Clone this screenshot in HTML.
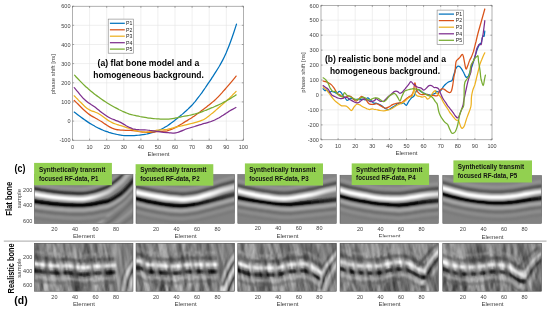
<!DOCTYPE html>
<html><head><meta charset="utf-8"><title>figure</title><style>
html,body{margin:0;padding:0;background:#fff;overflow:hidden}
svg{display:block}
text{font-family:"Liberation Sans",sans-serif;fill:#404040}
.tk{font-size:5.5px}
.lb{font-size:6px}
.lg{font-size:5.2px;fill:#222}
.tt{font-size:9.6px;font-weight:bold;fill:#000}
.rt{font-size:9.4px;font-weight:bold;fill:#000}
.cd{font-size:10.4px;font-weight:bold;fill:#000}
.gb{font-size:7.3px;font-weight:bold;fill:#111}
</style></head>
<body>
<svg width="550" height="310" viewBox="0 0 550 310">
<rect width="550" height="310" fill="#fff"/>
<path d="M89.6 6.2V140.2M106.7 6.2V140.2M123.8 6.2V140.2M140.9 6.2V140.2M157.9 6.2V140.2M175.0 6.2V140.2M192.1 6.2V140.2M209.2 6.2V140.2M226.3 6.2V140.2M72.5 25.3H243.4M72.5 44.5H243.4M72.5 63.6H243.4M72.5 82.8H243.4M72.5 101.9H243.4M72.5 121.1H243.4" stroke="#e4e4e4" stroke-width="0.6" fill="none"/>
<path d="M72.5 140.2v-1.6M72.5 6.2v1.6M89.6 140.2v-1.6M89.6 6.2v1.6M106.7 140.2v-1.6M106.7 6.2v1.6M123.8 140.2v-1.6M123.8 6.2v1.6M140.9 140.2v-1.6M140.9 6.2v1.6M157.9 140.2v-1.6M157.9 6.2v1.6M175.0 140.2v-1.6M175.0 6.2v1.6M192.1 140.2v-1.6M192.1 6.2v1.6M209.2 140.2v-1.6M209.2 6.2v1.6M226.3 140.2v-1.6M226.3 6.2v1.6M243.4 140.2v-1.6M243.4 6.2v1.6M72.5 6.2h1.6M243.4 6.2h-1.6M72.5 25.3h1.6M243.4 25.3h-1.6M72.5 44.5h1.6M243.4 44.5h-1.6M72.5 63.6h1.6M243.4 63.6h-1.6M72.5 82.8h1.6M243.4 82.8h-1.6M72.5 101.9h1.6M243.4 101.9h-1.6M72.5 121.1h1.6M243.4 121.1h-1.6M72.5 140.2h1.6M243.4 140.2h-1.6" stroke="#555" stroke-width="0.5" fill="none"/>
<rect x="72.5" y="6.2" width="170.9" height="134.0" fill="none" stroke="#707070" stroke-width="0.55"/>
<text class="tk" x="72.5" y="148.6" text-anchor="middle">0</text>
<text class="tk" x="89.6" y="148.6" text-anchor="middle">10</text>
<text class="tk" x="106.7" y="148.6" text-anchor="middle">20</text>
<text class="tk" x="123.8" y="148.6" text-anchor="middle">30</text>
<text class="tk" x="140.9" y="148.6" text-anchor="middle">40</text>
<text class="tk" x="157.9" y="148.6" text-anchor="middle">50</text>
<text class="tk" x="175.0" y="148.6" text-anchor="middle">60</text>
<text class="tk" x="192.1" y="148.6" text-anchor="middle">70</text>
<text class="tk" x="209.2" y="148.6" text-anchor="middle">80</text>
<text class="tk" x="226.3" y="148.6" text-anchor="middle">90</text>
<text class="tk" x="243.4" y="148.6" text-anchor="middle">100</text>
<text class="tk" x="70.5" y="8.4" text-anchor="end">600</text>
<text class="tk" x="70.5" y="27.5" text-anchor="end">500</text>
<text class="tk" x="70.5" y="46.7" text-anchor="end">400</text>
<text class="tk" x="70.5" y="65.8" text-anchor="end">300</text>
<text class="tk" x="70.5" y="85.0" text-anchor="end">200</text>
<text class="tk" x="70.5" y="104.1" text-anchor="end">100</text>
<text class="tk" x="70.5" y="123.3" text-anchor="end">0</text>
<text class="tk" x="70.5" y="142.4" text-anchor="end">-100</text>
<path d="M74.2 112.1C74.8 112.6 76.5 113.9 77.7 114.8C78.8 115.6 80.0 116.5 81.1 117.3C82.3 118.2 83.4 119.0 84.6 119.8C85.7 120.6 86.9 121.4 88.0 122.1C89.2 122.9 90.3 123.6 91.5 124.3C92.6 125.0 93.8 125.6 94.9 126.3C96.1 126.9 97.2 127.5 98.4 128.1C99.5 128.6 100.7 129.2 101.8 129.7C103.0 130.2 104.1 130.7 105.3 131.1C106.4 131.5 107.6 131.9 108.7 132.3C109.9 132.7 111.1 133.0 112.2 133.3C113.4 133.6 114.5 133.9 115.7 134.2C116.8 134.4 118.0 134.6 119.1 134.8C120.3 135.0 121.4 135.1 122.6 135.3C123.7 135.4 124.9 135.5 126.0 135.5C127.2 135.6 128.3 135.6 129.5 135.6C130.6 135.6 131.8 135.6 132.9 135.6C134.1 135.6 135.2 135.5 136.4 135.4C137.5 135.3 138.7 135.2 139.8 135.1C141.0 135.0 142.1 134.8 143.3 134.6C144.4 134.4 145.6 134.2 146.7 134.0C147.9 133.7 149.0 133.5 150.2 133.2C151.3 132.9 152.5 132.5 153.6 132.2C154.8 131.8 156.0 131.4 157.1 131.0C158.3 130.5 159.4 130.0 160.6 129.5C161.7 129.0 162.9 128.4 164.0 127.8C165.2 127.1 166.3 126.4 167.5 125.7C168.6 125.0 169.8 124.2 170.9 123.3C172.1 122.5 173.2 121.6 174.4 120.7C175.5 119.8 176.7 118.9 177.8 118.0C179.0 117.0 180.1 116.1 181.3 115.1C182.4 114.1 183.6 113.1 184.7 112.1C185.9 111.1 187.0 110.0 188.2 108.9C189.3 107.8 190.5 106.7 191.6 105.5C192.8 104.2 193.9 102.9 195.1 101.6C196.2 100.2 197.4 98.7 198.5 97.2C199.7 95.7 200.8 94.1 202.0 92.5C203.2 90.9 204.3 89.2 205.5 87.5C206.6 85.8 207.8 84.1 208.9 82.4C210.1 80.7 211.2 79.0 212.4 77.2C213.5 75.5 214.7 73.8 215.8 71.9C217.0 70.1 218.1 68.3 219.3 66.3C220.4 64.3 221.6 62.3 222.7 60.1C223.9 57.8 225.0 55.4 226.2 52.8C227.3 50.1 228.5 47.3 229.6 44.2C230.8 41.2 231.9 37.9 233.1 34.5C234.2 31.2 236.0 25.9 236.5 24.1" fill="none" stroke="#0072BD" stroke-width="1.25" stroke-linejoin="round" stroke-linecap="round"/>
<path d="M74.2 100.5C74.8 101.0 76.5 102.7 77.7 103.8C78.8 104.9 80.0 106.1 81.1 107.2C82.3 108.4 83.4 109.5 84.5 110.5C85.7 111.6 86.8 112.6 88.0 113.5C89.1 114.4 90.3 115.2 91.4 115.9C92.6 116.6 93.7 117.2 94.9 117.8C96.0 118.5 97.2 119.0 98.3 119.7C99.5 120.3 100.6 121.0 101.8 121.8C102.9 122.5 104.1 123.4 105.2 124.1C106.4 124.9 107.5 125.7 108.7 126.4C109.8 127.0 111.0 127.6 112.1 128.1C113.3 128.6 114.4 129.0 115.6 129.3C116.7 129.6 117.9 129.8 119.0 129.9C120.2 130.1 121.3 130.2 122.4 130.2C123.6 130.3 124.7 130.3 125.9 130.3C127.0 130.3 128.2 130.3 129.3 130.3C130.5 130.4 131.6 130.4 132.8 130.6C133.9 130.7 135.1 130.8 136.2 131.0C137.4 131.2 138.5 131.4 139.7 131.6C140.8 131.8 142.0 131.9 143.1 132.1C144.3 132.2 145.4 132.4 146.6 132.4C147.7 132.5 148.9 132.5 150.0 132.4C151.2 132.4 152.3 132.2 153.5 132.1C154.6 132.0 155.8 131.8 156.9 131.7C158.1 131.6 159.2 131.5 160.3 131.4C161.5 131.4 162.6 131.4 163.8 131.2C164.9 131.1 166.1 131.0 167.2 130.8C168.4 130.5 169.5 130.2 170.7 129.7C171.8 129.3 173.0 128.8 174.1 128.2C175.3 127.7 176.4 127.1 177.6 126.4C178.7 125.7 179.9 125.0 181.0 124.3C182.2 123.6 183.3 122.8 184.5 122.1C185.6 121.4 186.8 120.8 187.9 120.1C189.1 119.4 190.2 118.7 191.4 118.0C192.5 117.2 193.7 116.5 194.8 115.7C196.0 114.9 197.1 114.0 198.2 113.2C199.4 112.4 200.5 111.5 201.7 110.6C202.8 109.8 204.0 108.9 205.1 108.0C206.3 107.1 207.4 106.2 208.6 105.3C209.7 104.4 210.9 103.4 212.0 102.5C213.2 101.5 214.3 100.6 215.5 99.5C216.6 98.4 217.8 97.3 218.9 96.1C220.1 94.9 221.2 93.6 222.4 92.3C223.5 91.0 224.7 89.7 225.8 88.3C227.0 87.0 228.1 85.7 229.3 84.3C230.4 83.0 231.6 81.6 232.7 80.3C233.9 78.9 235.6 76.8 236.1 76.1" fill="none" stroke="#D95319" stroke-width="1.25" stroke-linejoin="round" stroke-linecap="round"/>
<path d="M74.2 95.8C74.8 96.4 76.5 98.1 77.7 99.3C78.8 100.5 80.0 101.7 81.1 102.8C82.3 104.0 83.4 105.2 84.5 106.2C85.7 107.3 86.8 108.3 88.0 109.0C89.1 109.8 90.3 110.3 91.4 110.8C92.6 111.3 93.7 111.5 94.9 112.0C96.0 112.5 97.2 112.9 98.3 113.5C99.5 114.2 100.6 114.9 101.8 115.7C102.9 116.5 104.1 117.4 105.2 118.2C106.4 119.1 107.5 119.9 108.7 120.7C109.8 121.4 111.0 122.1 112.1 122.6C113.3 123.2 114.4 123.6 115.6 124.0C116.7 124.4 117.9 124.7 119.0 125.1C120.2 125.4 121.3 125.8 122.4 126.1C123.6 126.5 124.7 126.9 125.9 127.3C127.0 127.7 128.2 128.1 129.3 128.5C130.5 128.9 131.6 129.4 132.8 129.7C133.9 130.1 135.1 130.5 136.2 130.8C137.4 131.1 138.5 131.3 139.7 131.5C140.8 131.7 142.0 131.9 143.1 132.0C144.3 132.0 145.4 132.0 146.6 132.0C147.7 131.9 148.9 131.8 150.0 131.6C151.2 131.4 152.3 131.2 153.5 130.9C154.6 130.7 155.8 130.4 156.9 130.2C158.1 130.0 159.2 129.9 160.3 129.8C161.5 129.7 162.6 129.7 163.8 129.7C164.9 129.6 166.1 129.5 167.2 129.4C168.4 129.2 169.5 129.0 170.7 128.7C171.8 128.4 173.0 128.0 174.1 127.7C175.3 127.4 176.4 127.0 177.6 126.7C178.7 126.4 179.9 126.2 181.0 126.0C182.2 125.7 183.3 125.5 184.5 125.2C185.6 125.0 186.8 124.7 187.9 124.4C189.1 124.1 190.2 123.8 191.4 123.5C192.5 123.2 193.7 122.9 194.8 122.6C196.0 122.3 197.1 122.0 198.2 121.6C199.4 121.3 200.5 120.9 201.7 120.4C202.8 120.0 204.0 119.4 205.1 118.7C206.3 118.0 207.4 117.1 208.6 116.2C209.7 115.4 210.9 114.4 212.0 113.4C213.2 112.5 214.3 111.5 215.5 110.5C216.6 109.5 217.8 108.5 218.9 107.5C220.1 106.5 221.2 105.5 222.4 104.5C223.5 103.5 224.7 102.5 225.8 101.4C227.0 100.4 228.1 99.3 229.3 98.2C230.4 97.1 231.6 96.0 232.7 94.8C233.9 93.7 235.6 92.0 236.1 91.4" fill="none" stroke="#EDB120" stroke-width="1.25" stroke-linejoin="round" stroke-linecap="round"/>
<path d="M74.2 87.6C74.8 88.2 76.5 90.3 77.7 91.6C78.8 93.0 79.9 94.5 81.1 95.8C82.2 97.1 83.4 98.4 84.5 99.5C85.7 100.6 86.8 101.5 88.0 102.4C89.1 103.2 90.3 103.9 91.4 104.7C92.6 105.4 93.7 106.2 94.9 107.1C96.0 107.9 97.1 108.9 98.3 109.8C99.4 110.7 100.6 111.6 101.7 112.5C102.9 113.3 104.0 114.2 105.2 115.0C106.3 115.8 107.5 116.6 108.6 117.2C109.8 117.9 110.9 118.5 112.1 119.0C113.2 119.5 114.3 119.8 115.5 120.3C116.6 120.7 117.8 121.1 118.9 121.6C120.1 122.1 121.2 122.7 122.4 123.4C123.5 124.0 124.7 124.8 125.8 125.5C127.0 126.1 128.1 126.8 129.3 127.4C130.4 127.9 131.5 128.4 132.7 128.8C133.8 129.1 135.0 129.3 136.1 129.5C137.3 129.7 138.4 129.7 139.6 129.8C140.7 129.8 141.9 129.8 143.0 129.8C144.2 129.9 145.3 129.9 146.5 130.0C147.6 130.1 148.7 130.2 149.9 130.4C151.0 130.5 152.2 130.7 153.3 130.9C154.5 131.1 155.6 131.3 156.8 131.4C157.9 131.6 159.1 131.8 160.2 131.9C161.4 132.1 162.5 132.2 163.7 132.3C164.8 132.4 165.9 132.5 167.1 132.6C168.2 132.7 169.4 132.9 170.5 132.9C171.7 133.0 172.8 133.1 174.0 133.1C175.1 133.0 176.3 132.8 177.4 132.5C178.6 132.2 179.7 131.7 180.9 131.2C182.0 130.8 183.1 130.2 184.3 129.8C185.4 129.3 186.6 128.9 187.7 128.5C188.9 128.2 190.0 127.9 191.2 127.5C192.3 127.2 193.5 126.8 194.6 126.5C195.8 126.1 196.9 125.7 198.1 125.3C199.2 125.0 200.3 124.6 201.5 124.3C202.6 123.9 203.8 123.6 204.9 123.3C206.1 123.0 207.2 122.7 208.4 122.3C209.5 122.0 210.7 121.7 211.8 121.2C213.0 120.8 214.1 120.4 215.3 119.8C216.4 119.3 217.5 118.6 218.7 118.0C219.8 117.3 221.0 116.6 222.1 115.8C223.3 115.1 224.4 114.3 225.6 113.6C226.7 112.8 227.9 112.1 229.0 111.4C230.2 110.7 231.3 110.0 232.5 109.4C233.6 108.7 235.3 107.8 235.9 107.5" fill="none" stroke="#7E2F8E" stroke-width="1.25" stroke-linejoin="round" stroke-linecap="round"/>
<path d="M74.5 75.2C75.0 75.8 76.8 77.6 77.9 78.8C79.1 80.0 80.2 81.2 81.4 82.4C82.5 83.5 83.6 84.6 84.8 85.7C85.9 86.8 87.1 87.8 88.2 88.8C89.4 89.8 90.5 90.8 91.7 91.7C92.8 92.7 94.0 93.6 95.1 94.5C96.3 95.4 97.4 96.2 98.6 97.0C99.7 97.9 100.8 98.7 102.0 99.5C103.1 100.3 104.3 101.1 105.4 101.8C106.6 102.6 107.7 103.3 108.9 104.0C110.0 104.7 111.2 105.4 112.3 106.0C113.5 106.7 114.6 107.3 115.8 107.9C116.9 108.5 118.0 109.1 119.2 109.7C120.3 110.2 121.5 110.8 122.6 111.3C123.8 111.8 124.9 112.4 126.1 112.8C127.2 113.3 128.4 113.7 129.5 114.1C130.7 114.4 131.8 114.7 133.0 115.0C134.1 115.3 135.2 115.5 136.4 115.8C137.5 116.0 138.7 116.2 139.8 116.5C141.0 116.7 142.1 116.9 143.3 117.1C144.4 117.3 145.6 117.5 146.7 117.7C147.9 117.9 149.0 118.1 150.2 118.2C151.3 118.4 152.4 118.5 153.6 118.6C154.7 118.7 155.9 118.8 157.0 118.9C158.2 118.9 159.3 119.0 160.5 119.0C161.6 119.0 162.8 119.1 163.9 119.1C165.1 119.1 166.2 119.1 167.4 119.0C168.5 119.0 169.6 118.9 170.8 118.8C171.9 118.7 173.1 118.5 174.2 118.3C175.4 118.1 176.5 117.8 177.7 117.6C178.8 117.3 180.0 117.1 181.1 116.8C182.3 116.6 183.4 116.4 184.6 116.2C185.7 116.0 186.8 115.8 188.0 115.6C189.1 115.4 190.3 115.1 191.4 114.9C192.6 114.6 193.7 114.3 194.9 114.0C196.0 113.7 197.2 113.4 198.3 113.0C199.5 112.6 200.6 112.2 201.7 111.8C202.9 111.4 204.0 110.9 205.2 110.5C206.3 110.0 207.5 109.6 208.6 109.1C209.8 108.6 210.9 108.2 212.1 107.7C213.2 107.2 214.4 106.7 215.5 106.2C216.7 105.7 217.8 105.2 218.9 104.7C220.1 104.2 221.2 103.6 222.4 103.0C223.5 102.5 224.7 101.8 225.8 101.2C227.0 100.6 228.1 99.9 229.3 99.2C230.4 98.5 231.6 97.8 232.7 97.0C233.9 96.3 235.6 95.2 236.1 94.9" fill="none" stroke="#77AC30" stroke-width="1.25" stroke-linejoin="round" stroke-linecap="round"/>
<text class="lb" x="158.5" y="155.6" text-anchor="middle">Element</text>
<text class="lb" transform="translate(55.3 74.2) rotate(-90)" text-anchor="middle">phase shift [ns]</text>
<rect x="108.2" y="19.1" width="25.3" height="34.1" fill="#fff" stroke="#808080" stroke-width="0.6"/>
<path d="M109.9 23.3H124.8" stroke="#0072BD" stroke-width="1.25"/>
<text class="lg" x="126.1" y="25.1">P1</text>
<path d="M109.9 29.8H124.8" stroke="#D95319" stroke-width="1.25"/>
<text class="lg" x="126.1" y="31.6">P2</text>
<path d="M109.9 36.2H124.8" stroke="#EDB120" stroke-width="1.25"/>
<text class="lg" x="126.1" y="38.0">P3</text>
<path d="M109.9 42.7H124.8" stroke="#7E2F8E" stroke-width="1.25"/>
<text class="lg" x="126.1" y="44.5">P4</text>
<path d="M109.9 49.1H124.8" stroke="#77AC30" stroke-width="1.25"/>
<text class="lg" x="126.1" y="50.9">P5</text>
<text class="tt" x="148.4" y="66.2" text-anchor="middle" textLength="101.6" lengthAdjust="spacingAndGlyphs">(a) flat bone model and a</text>
<text class="tt" x="148.6" y="78.0" text-anchor="middle" textLength="110.5" lengthAdjust="spacingAndGlyphs">homogeneous background.</text>
<path d="M338.1 5.3V139.8M355.2 5.3V139.8M372.3 5.3V139.8M389.4 5.3V139.8M406.5 5.3V139.8M423.6 5.3V139.8M440.7 5.3V139.8M457.8 5.3V139.8M474.9 5.3V139.8M321.0 20.2H492.0M321.0 35.2H492.0M321.0 50.1H492.0M321.0 65.1H492.0M321.0 80.0H492.0M321.0 95.0H492.0M321.0 109.9H492.0M321.0 124.9H492.0" stroke="#e4e4e4" stroke-width="0.6" fill="none"/>
<path d="M321.0 139.8v-1.6M321.0 5.3v1.6M338.1 139.8v-1.6M338.1 5.3v1.6M355.2 139.8v-1.6M355.2 5.3v1.6M372.3 139.8v-1.6M372.3 5.3v1.6M389.4 139.8v-1.6M389.4 5.3v1.6M406.5 139.8v-1.6M406.5 5.3v1.6M423.6 139.8v-1.6M423.6 5.3v1.6M440.7 139.8v-1.6M440.7 5.3v1.6M457.8 139.8v-1.6M457.8 5.3v1.6M474.9 139.8v-1.6M474.9 5.3v1.6M492.0 139.8v-1.6M492.0 5.3v1.6M321.0 5.3h1.6M492.0 5.3h-1.6M321.0 20.2h1.6M492.0 20.2h-1.6M321.0 35.2h1.6M492.0 35.2h-1.6M321.0 50.1h1.6M492.0 50.1h-1.6M321.0 65.1h1.6M492.0 65.1h-1.6M321.0 80.0h1.6M492.0 80.0h-1.6M321.0 95.0h1.6M492.0 95.0h-1.6M321.0 109.9h1.6M492.0 109.9h-1.6M321.0 124.9h1.6M492.0 124.9h-1.6M321.0 139.8h1.6M492.0 139.8h-1.6" stroke="#555" stroke-width="0.5" fill="none"/>
<rect x="321.0" y="5.3" width="171.0" height="134.5" fill="none" stroke="#707070" stroke-width="0.55"/>
<text class="tk" x="321.0" y="147.6" text-anchor="middle">0</text>
<text class="tk" x="338.1" y="147.6" text-anchor="middle">10</text>
<text class="tk" x="355.2" y="147.6" text-anchor="middle">20</text>
<text class="tk" x="372.3" y="147.6" text-anchor="middle">30</text>
<text class="tk" x="389.4" y="147.6" text-anchor="middle">40</text>
<text class="tk" x="406.5" y="147.6" text-anchor="middle">50</text>
<text class="tk" x="423.6" y="147.6" text-anchor="middle">60</text>
<text class="tk" x="440.7" y="147.6" text-anchor="middle">70</text>
<text class="tk" x="457.8" y="147.6" text-anchor="middle">80</text>
<text class="tk" x="474.9" y="147.6" text-anchor="middle">90</text>
<text class="tk" x="492.0" y="147.6" text-anchor="middle">100</text>
<text class="tk" x="318.8" y="7.5" text-anchor="end">600</text>
<text class="tk" x="318.8" y="22.4" text-anchor="end">500</text>
<text class="tk" x="318.8" y="37.4" text-anchor="end">400</text>
<text class="tk" x="318.8" y="52.3" text-anchor="end">300</text>
<text class="tk" x="318.8" y="67.3" text-anchor="end">200</text>
<text class="tk" x="318.8" y="82.2" text-anchor="end">100</text>
<text class="tk" x="318.8" y="97.2" text-anchor="end">0</text>
<text class="tk" x="318.8" y="112.1" text-anchor="end">-100</text>
<text class="tk" x="318.8" y="127.1" text-anchor="end">-200</text>
<text class="tk" x="318.8" y="142.0" text-anchor="end">-300</text>
<path d="M323.1 88.8C323.4 89.1 324.4 90.5 325.0 90.7C325.7 90.9 326.3 89.8 327.0 90.1C327.6 90.4 328.2 92.5 328.9 92.7C329.7 92.9 330.6 91.5 331.5 91.4C332.4 91.3 333.2 91.7 334.1 92.0C334.9 92.3 335.8 93.4 336.7 93.3C337.5 93.2 338.5 91.5 339.3 91.4C340.0 91.3 340.5 91.9 341.2 92.7C341.8 93.4 342.5 95.0 343.1 95.9C343.8 96.8 344.4 97.1 345.1 97.8C345.7 98.6 346.3 100.2 347.0 100.4C347.8 100.6 348.7 99.5 349.6 99.1C350.5 98.8 351.3 98.4 352.2 98.5C353.0 98.6 353.9 99.7 354.8 99.8C355.6 99.9 356.5 99.1 357.3 99.1C358.2 99.1 359.1 99.8 359.9 99.8C360.8 99.8 361.7 99.1 362.5 99.1C363.4 99.1 364.2 100.0 365.1 99.8C366.0 99.6 366.8 97.8 367.7 97.8C368.5 97.8 369.4 99.0 370.3 99.8C371.1 100.5 372.0 101.7 372.8 102.4C373.7 103.0 374.9 103.5 375.4 103.7C376.0 103.8 375.4 102.9 376.0 103.0C376.6 103.1 378.2 103.8 379.2 104.3C380.3 104.8 381.4 105.5 382.5 106.2C383.5 107.0 384.6 108.3 385.7 108.8C386.8 109.4 387.8 109.7 388.9 109.5C390.0 109.3 391.1 108.2 392.1 107.5C393.2 106.9 394.5 106.2 395.4 105.6C396.2 104.9 396.7 104.1 397.3 103.7C398.0 103.2 398.6 103.0 399.3 103.0C399.9 103.0 400.4 103.7 401.2 103.7C401.9 103.7 402.9 102.7 403.8 103.0C404.6 103.3 405.5 105.7 406.4 105.3C407.2 105.0 408.1 102.3 408.9 101.1C409.8 99.8 410.7 98.7 411.5 97.8C412.4 97.0 413.4 97.0 414.1 95.9C414.9 94.8 415.4 92.5 416.1 91.4C416.7 90.3 417.2 89.4 418.0 89.4C418.7 89.4 419.7 90.8 420.6 91.4C421.4 91.9 422.3 92.2 423.2 92.7C424.0 93.1 424.9 93.6 425.7 94.0C426.6 94.3 427.5 94.4 428.3 94.6C429.2 94.8 430.0 95.4 430.9 95.3C431.8 95.1 432.7 94.3 433.5 94.0C434.2 93.6 435.0 93.7 435.4 93.3C435.8 92.9 435.5 91.6 436.0 91.4C436.5 91.2 437.7 92.2 438.6 92.0C439.4 91.8 440.3 91.1 441.2 90.1C442.0 89.1 442.9 87.3 443.8 86.2C444.6 85.1 445.5 84.4 446.3 83.6C447.2 82.9 448.0 82.2 448.9 81.7C449.9 81.2 451.4 81.4 452.1 80.4C452.9 79.4 453.0 77.3 453.4 75.9C453.9 74.5 454.4 73.0 454.7 72.0C455.1 71.0 454.9 70.5 455.4 69.6C455.8 68.7 456.7 66.9 457.3 66.4C458.0 65.8 458.6 66.0 459.3 66.4C459.9 66.7 460.5 67.4 461.2 68.3C461.8 69.2 462.6 70.6 463.1 71.5C463.7 72.5 464.0 73.2 464.4 74.1C464.9 75.0 465.3 76.8 466.0 77.1C466.6 77.4 467.6 77.1 468.3 76.1C469.0 75.0 469.6 72.6 470.2 70.9C470.9 69.2 471.5 67.7 472.2 65.7C472.8 63.8 473.5 61.4 474.1 59.3C474.8 57.1 475.4 54.7 476.1 52.8C476.7 50.9 477.3 49.1 478.0 47.6C478.6 46.1 479.4 44.5 479.9 43.8C480.5 43.0 480.9 43.8 481.2 43.1C481.5 42.5 481.6 41.1 481.9 39.9C482.1 38.7 482.4 36.6 482.8 36.0C483.1 35.4 483.7 37.0 484.1 36.2C484.4 35.3 484.7 31.9 484.8 31.0" fill="none" stroke="#0072BD" stroke-width="1.25" stroke-linejoin="round" stroke-linecap="round"/>
<path d="M323.1 81.0C323.5 81.2 324.7 81.4 325.7 81.7C326.7 82.0 328.0 82.4 328.9 83.0C329.9 83.5 330.6 84.1 331.5 84.9C332.4 85.8 333.3 87.1 334.1 88.1C334.8 89.2 335.4 90.4 336.0 91.4C336.7 92.3 337.2 93.3 338.0 94.0C338.7 94.6 339.7 94.7 340.5 95.3C341.4 95.8 342.3 96.9 343.1 97.2C344.0 97.5 344.9 97.4 345.7 97.2C346.6 97.0 347.4 96.0 348.3 95.9C349.2 95.8 350.0 96.0 350.9 96.5C351.7 97.1 352.6 98.4 353.5 99.1C354.3 99.9 355.2 101.1 356.1 101.1C356.9 101.1 357.8 99.9 358.6 99.1C359.5 98.4 360.4 96.8 361.2 96.5C362.1 96.3 362.9 97.2 363.8 97.8C364.7 98.5 365.5 99.5 366.4 100.4C367.2 101.4 368.1 103.0 369.0 103.7C369.8 104.3 370.7 104.2 371.6 104.3C372.4 104.4 373.4 104.4 374.1 104.3C374.9 104.2 375.2 103.5 376.0 103.7C376.8 103.8 378.2 104.4 379.2 104.9C380.3 105.5 381.4 106.3 382.5 106.9C383.5 107.4 384.6 108.2 385.7 108.2C386.8 108.2 387.8 107.4 388.9 106.9C390.0 106.3 391.1 105.5 392.1 104.9C393.2 104.4 394.3 104.0 395.4 103.7C396.5 103.3 397.5 103.2 398.6 103.0C399.7 102.8 400.8 102.9 401.8 102.4C402.9 101.8 404.0 100.6 405.1 99.8C406.1 98.9 407.2 97.9 408.3 97.2C409.4 96.4 410.7 96.2 411.5 95.3C412.4 94.3 412.9 93.4 413.5 91.4C414.0 89.3 414.3 83.6 414.8 83.0C415.2 82.3 415.6 86.1 416.1 87.5C416.5 88.9 416.7 90.3 417.3 91.4C418.0 92.5 419.1 93.4 419.9 94.0C420.8 94.5 421.7 94.6 422.5 94.6C423.4 94.6 424.2 94.0 425.1 94.0C426.0 94.0 426.8 94.3 427.7 94.6C428.5 94.9 429.4 95.8 430.3 95.9C431.1 96.0 432.0 95.3 432.8 95.3C433.7 95.3 434.9 95.8 435.4 95.9C436.0 96.0 435.6 96.0 436.0 95.9C436.4 95.8 437.4 96.0 437.9 95.3C438.5 94.5 438.6 92.5 439.2 91.4C439.9 90.3 441.0 89.1 441.8 88.8C442.7 88.5 443.5 89.0 444.4 89.4C445.3 89.9 446.1 90.8 447.0 91.4C447.8 91.9 448.8 92.8 449.6 92.7C450.3 92.6 451.0 92.0 451.5 90.7C452.0 89.4 452.4 87.4 452.8 84.9C453.2 82.4 453.7 78.0 454.1 75.9C454.5 73.7 454.7 74.3 455.0 72.0C455.3 69.7 455.5 64.0 456.0 61.8C456.5 59.7 457.3 60.0 458.0 59.3C458.6 58.5 459.3 58.1 459.9 57.3C460.5 56.6 461.3 55.1 461.8 54.7C462.4 54.4 462.7 54.2 463.1 55.4C463.6 56.6 464.0 59.6 464.4 61.8C464.9 64.1 465.4 68.3 466.0 68.9C466.5 69.6 467.1 67.1 467.7 65.7C468.3 64.3 468.9 62.1 469.6 60.5C470.2 59.0 470.9 58.2 471.5 56.7C472.2 55.2 472.9 53.2 473.5 51.5C474.0 49.8 474.3 48.1 474.8 46.3C475.2 44.6 475.6 42.9 476.1 41.2C476.5 39.4 476.9 37.7 477.3 36.0C477.8 34.3 477.4 35.5 478.6 31.0C479.9 26.5 483.8 12.7 484.8 9.0" fill="none" stroke="#D95319" stroke-width="1.25" stroke-linejoin="round" stroke-linecap="round"/>
<path d="M323.1 86.9C323.5 87.3 324.8 88.6 325.7 89.4C326.6 90.3 327.4 90.9 328.3 92.0C329.1 93.1 330.0 94.7 330.9 95.9C331.7 97.1 332.6 98.2 333.4 99.1C334.3 100.1 335.2 101.0 336.0 101.7C336.9 102.5 337.7 103.0 338.6 103.7C339.5 104.3 340.3 105.2 341.2 105.6C342.1 106.0 342.9 105.7 343.8 105.9C344.6 106.0 345.5 105.9 346.4 106.2C347.2 106.6 348.1 107.5 348.9 108.2C349.8 108.9 350.7 110.7 351.5 110.5C352.4 110.3 353.3 107.9 354.1 106.9C355.0 105.9 355.8 104.7 356.7 104.3C357.6 103.9 358.4 104.2 359.3 104.6C360.1 104.9 361.0 105.7 361.9 106.2C362.7 106.7 363.6 107.1 364.4 107.5C365.3 108.0 366.2 108.5 367.0 108.8C367.9 109.1 368.8 109.5 369.6 109.5C370.5 109.5 371.3 108.8 372.2 108.8C373.1 108.8 374.2 109.4 374.8 109.5C375.4 109.6 375.2 109.3 376.0 109.5C376.8 109.6 378.6 110.3 379.9 110.5C381.2 110.7 382.5 110.8 383.8 110.8C385.0 110.7 386.3 110.4 387.6 110.1C388.9 109.8 390.2 109.5 391.5 108.8C392.8 108.2 394.1 107.0 395.4 106.2C396.7 105.5 398.0 104.9 399.3 104.3C400.5 103.7 401.9 103.1 403.1 102.4C404.3 101.6 405.3 100.6 406.4 99.8C407.4 98.9 408.6 97.8 409.6 97.2C410.6 96.5 411.4 97.3 412.2 95.9C412.9 94.5 413.6 89.1 414.1 88.8C414.7 88.5 414.9 92.8 415.4 94.0C415.9 95.1 416.6 95.5 417.3 95.9C418.1 96.3 419.1 96.3 419.9 96.5C420.8 96.8 421.7 97.2 422.5 97.2C423.4 97.2 424.2 96.2 425.1 96.5C426.0 96.9 426.8 99.0 427.7 99.1C428.5 99.2 429.4 98.3 430.3 97.2C431.1 96.1 432.0 93.7 432.8 92.7C433.7 91.6 434.9 90.7 435.4 90.7C436.0 90.7 435.5 92.0 436.0 92.7C436.5 93.3 437.7 93.7 438.6 94.6C439.4 95.5 440.3 96.4 441.2 97.8C442.0 99.2 442.9 101.5 443.8 103.0C444.6 104.5 445.5 105.6 446.3 106.9C447.2 108.2 448.4 109.9 448.9 110.8C449.5 111.6 449.0 111.3 449.6 112.1C450.1 112.9 451.3 114.3 452.1 115.3C453.0 116.4 454.0 117.7 454.7 118.6C455.5 119.4 456.0 119.9 456.7 120.2C457.3 120.6 458.1 119.8 458.6 120.5C459.1 121.2 459.5 123.2 459.9 124.4C460.3 125.6 460.8 127.0 461.2 127.6C461.6 128.3 461.9 128.6 462.5 128.3C463.0 127.9 463.8 127.2 464.4 125.7C465.1 124.2 465.7 121.1 466.4 119.2C467.0 117.3 467.7 115.8 468.3 114.0C468.9 112.3 469.8 110.4 470.2 108.9C470.7 107.4 470.9 107.1 471.1 105.0C471.4 102.9 471.2 99.0 471.5 96.5C471.8 94.1 472.3 92.0 472.8 90.1C473.4 88.1 474.1 87.1 474.8 84.9C475.4 82.8 476.2 79.3 476.7 77.2C477.2 75.0 477.5 74.1 478.0 72.0C478.5 69.9 479.3 66.5 479.9 64.4C480.6 62.3 481.2 60.9 481.9 59.3C482.5 57.6 483.3 55.8 483.8 54.7C484.3 53.7 484.7 53.1 484.8 52.8" fill="none" stroke="#EDB120" stroke-width="1.25" stroke-linejoin="round" stroke-linecap="round"/>
<path d="M323.1 85.6C323.5 85.9 324.8 86.9 325.7 87.5C326.6 88.1 327.5 88.6 328.3 89.4C329.0 90.3 329.6 91.7 330.2 92.7C330.9 93.6 331.4 94.6 332.1 95.3C332.9 95.9 333.9 96.1 334.7 96.5C335.6 97.0 336.5 97.5 337.3 97.8C338.2 98.2 339.0 98.4 339.9 98.5C340.8 98.6 341.6 98.7 342.5 98.5C343.3 98.3 344.2 97.3 345.1 97.2C345.9 97.1 346.8 97.4 347.7 97.8C348.5 98.3 349.4 99.2 350.2 99.8C351.1 100.3 352.0 100.6 352.8 101.1C353.7 101.5 354.5 102.1 355.4 102.4C356.3 102.6 357.1 103.0 358.0 102.7C358.9 102.5 359.7 101.7 360.6 101.1C361.4 100.5 362.3 99.5 363.2 99.1C364.0 98.8 364.9 98.9 365.7 99.1C366.6 99.3 367.5 100.0 368.3 100.4C369.2 100.9 370.0 101.6 370.9 101.7C371.8 101.8 372.7 101.4 373.5 101.1C374.2 100.7 375.0 100.2 375.4 99.8C375.8 99.3 375.3 98.3 376.0 98.5C376.7 98.7 378.6 100.6 379.9 101.1C381.2 101.5 382.5 101.7 383.8 101.1C385.0 100.4 386.3 98.4 387.6 97.2C388.9 96.0 390.3 94.9 391.5 94.0C392.7 93.0 393.8 91.8 394.7 91.4C395.7 90.9 396.5 91.1 397.3 91.4C398.2 91.7 399.0 93.2 399.9 93.3C400.8 93.4 401.6 92.8 402.5 92.0C403.3 91.3 404.1 90.0 405.1 88.8C406.0 87.6 407.3 86.1 408.3 84.9C409.3 83.7 410.0 81.8 410.9 81.7C411.7 81.6 412.6 83.5 413.5 84.3C414.3 85.0 415.2 85.7 416.1 86.2C416.9 86.8 417.8 87.2 418.6 87.5C419.5 87.8 420.4 87.7 421.2 88.1C422.1 88.6 422.9 90.1 423.8 90.1C424.7 90.1 425.5 88.9 426.4 88.1C427.2 87.4 428.1 86.0 429.0 85.6C429.8 85.1 430.7 85.2 431.6 85.6C432.4 85.9 433.4 87.2 434.1 87.5C434.9 87.8 435.3 87.3 436.0 87.5C436.7 87.7 437.8 87.8 438.6 88.8C439.3 89.8 439.9 91.8 440.5 93.3C441.2 94.8 441.7 96.4 442.5 97.8C443.2 99.2 444.2 100.4 445.0 101.7C445.9 103.0 446.8 104.4 447.6 105.6C448.5 106.8 449.4 107.7 450.2 108.8C451.1 109.9 451.9 110.9 452.8 112.1C453.7 113.2 454.5 115.0 455.4 116.0C456.2 117.0 457.2 118.2 458.0 117.9C458.7 117.6 459.3 115.6 459.9 114.0C460.5 112.5 461.3 110.4 461.8 108.9C462.4 107.4 462.8 106.4 463.1 105.0C463.5 103.6 463.3 102.7 463.8 100.4C464.2 98.2 465.1 94.4 465.7 91.4C466.4 88.4 467.0 84.9 467.7 82.3C468.3 79.8 469.1 77.6 469.6 75.9C470.1 74.2 470.6 73.7 470.9 72.0C471.2 70.3 471.1 67.5 471.5 65.7C472.0 63.9 472.8 62.9 473.5 61.2C474.1 59.5 474.9 57.4 475.4 55.4C475.9 53.3 476.3 50.4 476.7 48.9C477.1 47.4 477.6 47.1 478.0 46.3C478.4 45.6 478.7 44.7 479.3 44.4C479.8 44.1 480.8 45.2 481.2 44.4C481.7 43.6 481.6 41.3 481.9 39.9C482.1 38.5 482.5 37.5 482.8 36.0C483.0 34.5 483.2 33.6 483.5 31.0C483.9 28.5 484.6 22.4 484.8 20.7" fill="none" stroke="#7E2F8E" stroke-width="1.25" stroke-linejoin="round" stroke-linecap="round"/>
<path d="M323.1 77.8C323.5 78.1 324.8 78.8 325.7 79.8C326.6 80.7 327.5 82.2 328.3 83.6C329.0 85.0 329.5 86.9 330.2 88.1C331.0 89.4 331.9 90.8 332.8 91.4C333.7 91.9 334.6 90.9 335.4 91.4C336.1 91.8 336.6 93.2 337.3 94.0C338.1 94.7 339.0 95.5 339.9 95.9C340.8 96.3 341.7 97.1 342.5 96.5C343.2 96.0 343.7 92.9 344.4 92.7C345.2 92.5 346.1 94.6 347.0 95.3C347.9 95.9 348.7 96.1 349.6 96.5C350.5 97.0 351.3 97.4 352.2 97.8C353.0 98.3 353.9 98.8 354.8 99.1C355.6 99.5 356.5 99.9 357.3 99.8C358.2 99.7 359.1 98.9 359.9 98.5C360.8 98.1 361.7 97.3 362.5 97.2C363.4 97.1 364.2 97.4 365.1 97.8C366.0 98.3 366.8 99.5 367.7 99.8C368.5 100.1 369.4 100.0 370.3 99.8C371.1 99.6 372.0 98.8 372.8 98.5C373.7 98.2 374.9 97.9 375.4 97.8C376.0 97.7 375.5 97.7 376.0 97.8C376.5 97.9 377.7 98.1 378.6 98.5C379.4 98.9 380.3 99.9 381.2 100.4C382.0 101.0 382.9 101.8 383.8 101.7C384.6 101.6 385.5 100.6 386.3 99.8C387.2 98.9 388.1 97.4 388.9 96.5C389.8 95.7 390.6 95.1 391.5 94.6C392.4 94.1 393.3 93.3 394.1 93.3C394.8 93.3 395.4 93.9 396.0 94.6C396.7 95.4 397.3 96.8 398.0 97.8C398.6 98.9 399.3 101.3 399.9 101.1C400.5 100.9 401.1 98.2 401.8 96.5C402.6 94.9 403.6 92.5 404.4 91.4C405.3 90.3 406.1 90.4 407.0 90.1C407.9 89.8 408.7 89.7 409.6 89.4C410.5 89.2 411.3 88.9 412.2 88.8C413.0 88.7 413.9 88.7 414.8 88.8C415.6 88.9 416.5 89.2 417.3 89.4C418.2 89.7 419.1 89.5 419.9 90.1C420.8 90.6 421.7 92.0 422.5 92.7C423.4 93.3 424.2 93.5 425.1 94.0C426.0 94.4 426.8 94.9 427.7 95.3C428.5 95.6 429.4 95.5 430.3 95.9C431.1 96.3 432.0 96.9 432.8 97.8C433.7 98.8 434.9 101.0 435.4 101.7C436.0 102.5 435.7 101.9 436.0 102.4C436.3 102.8 436.9 102.9 437.3 104.3C437.7 105.7 438.2 109.0 438.6 110.8C439.0 112.5 439.2 113.3 439.9 114.7C440.5 116.1 441.6 117.9 442.5 119.2C443.3 120.5 444.2 121.6 445.0 122.4C445.9 123.3 446.9 123.3 447.6 124.4C448.4 125.5 448.9 127.5 449.6 128.9C450.2 130.3 450.9 132.1 451.5 132.8C452.1 133.5 452.8 133.4 453.4 133.2C454.1 133.0 454.7 132.6 455.4 131.5C456.0 130.3 456.8 128.1 457.3 126.3C457.9 124.5 458.2 122.5 458.6 120.5C459.0 118.5 459.4 116.0 459.9 114.0C460.4 112.1 461.2 110.4 461.8 108.9C462.5 107.4 463.3 109.0 463.8 105.0C464.2 101.0 464.0 89.1 464.4 84.9C464.9 80.7 465.7 81.0 466.4 79.8C467.0 78.5 467.8 78.0 468.3 77.2C468.8 76.3 469.2 76.5 469.6 74.6C470.0 72.7 470.3 67.8 470.9 65.7C471.4 63.6 472.2 63.0 472.8 61.8C473.5 60.7 474.1 59.5 474.8 58.6C475.4 57.7 476.2 57.1 476.7 56.7C477.2 56.2 477.7 55.2 478.0 56.0C478.3 56.9 478.3 59.6 478.6 61.8C479.0 64.1 479.6 67.2 479.9 69.6C480.3 72.0 480.4 74.4 480.6 76.1C480.8 77.7 480.8 78.2 481.2 79.8C481.7 81.3 482.6 85.6 483.2 85.6C483.7 85.6 484.1 81.5 484.4 79.8C484.8 78.0 485.2 76.0 485.4 75.2" fill="none" stroke="#77AC30" stroke-width="1.25" stroke-linejoin="round" stroke-linecap="round"/>
<text class="lb" x="406.5" y="155.2" text-anchor="middle">Element</text>
<text class="lb" transform="translate(304.5 72.5) rotate(-90)" text-anchor="middle">phase shift [ns]</text>
<rect x="437.1" y="10.1" width="26.3" height="34.3" fill="#fff" stroke="#808080" stroke-width="0.6"/>
<path d="M438.8 14.1H454" stroke="#0072BD" stroke-width="1.25"/>
<text class="lg" x="455.8" y="15.9">P1</text>
<path d="M438.8 20.6H454" stroke="#D95319" stroke-width="1.25"/>
<text class="lg" x="455.8" y="22.4">P2</text>
<path d="M438.8 27.2H454" stroke="#EDB120" stroke-width="1.25"/>
<text class="lg" x="455.8" y="29.0">P3</text>
<path d="M438.8 33.8H454" stroke="#7E2F8E" stroke-width="1.25"/>
<text class="lg" x="455.8" y="35.5">P4</text>
<path d="M438.8 40.3H454" stroke="#77AC30" stroke-width="1.25"/>
<text class="lg" x="455.8" y="42.1">P5</text>
<text class="tt" x="385.5" y="61.6" text-anchor="middle" textLength="121" lengthAdjust="spacingAndGlyphs">(b) realistic bone model and a</text>
<text class="tt" x="385" y="73.7" text-anchor="middle" textLength="110" lengthAdjust="spacingAndGlyphs">homogeneous background.</text>
<defs><filter id="bl" x="-5%" y="-5%" width="110%" height="110%"><feGaussianBlur stdDeviation="1.1"/></filter><filter id="bf" x="-5%" y="-5%" width="110%" height="110%"><feGaussianBlur stdDeviation="1.3"/></filter><filter id="bs" x="-5%" y="-5%" width="110%" height="110%"><feGaussianBlur stdDeviation="0.9"/></filter>
<clipPath id="ct0"><rect x="34.4" y="174.4" width="98.6" height="49.1"/></clipPath>
<clipPath id="cb0"><rect x="34.4" y="243.3" width="98.6" height="47.9"/></clipPath>
<clipPath id="ct1"><rect x="136.0" y="174.4" width="98.5" height="49.1"/></clipPath>
<clipPath id="cb1"><rect x="136.0" y="243.3" width="98.5" height="47.9"/></clipPath>
<clipPath id="ct2"><rect x="237.8" y="174.4" width="98.5" height="49.1"/></clipPath>
<clipPath id="cb2"><rect x="237.8" y="243.3" width="98.5" height="47.9"/></clipPath>
<clipPath id="ct3"><rect x="340.0" y="175.2" width="98.4" height="48.2"/></clipPath>
<clipPath id="cb3"><rect x="340.0" y="243.3" width="98.4" height="47.9"/></clipPath>
<clipPath id="ct4"><rect x="442.8" y="175.5" width="98.8" height="48.0"/></clipPath>
<clipPath id="cb4"><rect x="442.8" y="243.3" width="98.8" height="47.9"/></clipPath>
<filter id="nz" x="0" y="0" width="100%" height="100%" color-interpolation-filters="sRGB"><feTurbulence type="fractalNoise" baseFrequency="0.22 0.03" numOctaves="2" seed="7"/><feColorMatrix values="1 0 0 0 0 1 0 0 0 0 1 0 0 0 0 0 0 0 0 1"/><feComponentTransfer><feFuncR type="linear" slope="2.4" intercept="-0.7"/><feFuncG type="linear" slope="2.4" intercept="-0.7"/><feFuncB type="linear" slope="2.4" intercept="-0.7"/></feComponentTransfer><feGaussianBlur stdDeviation="0.7 0.9"/></filter>
<filter id="nz2" x="0" y="0" width="100%" height="100%" color-interpolation-filters="sRGB"><feTurbulence type="fractalNoise" baseFrequency="0.22 0.03" numOctaves="2" seed="23"/><feColorMatrix values="1 0 0 0 0 1 0 0 0 0 1 0 0 0 0 0 0 0 0 1"/><feComponentTransfer><feFuncR type="linear" slope="2.4" intercept="-0.7"/><feFuncG type="linear" slope="2.4" intercept="-0.7"/><feFuncB type="linear" slope="2.4" intercept="-0.7"/></feComponentTransfer><feGaussianBlur stdDeviation="0.7 0.9"/></filter>
<linearGradient id="tg" x1="0" x2="0" y1="0" y2="1"><stop offset="0" stop-color="#868686" stop-opacity="0.55"/><stop offset="1" stop-color="#868686" stop-opacity="0"/></linearGradient>
</defs>
<g clip-path="url(#ct0)"><rect x="32.4" y="172.4" width="102.6" height="53.1" fill="#828282"/>
<linearGradient id="wg0" gradientUnits="userSpaceOnUse" x1="88.6" y1="0" x2="118.2" y2="0"><stop offset="0" stop-color="#ffffff"/><stop offset="1" stop-color="#b2b2b2"/></linearGradient>
<linearGradient id="kg0" gradientUnits="userSpaceOnUse" x1="103.4" y1="0" x2="133.0" y2="0"><stop offset="0" stop-color="#000000"/><stop offset="1" stop-color="#1c1c1c"/></linearGradient>
<g filter="url(#bf)" fill="none">
<path d="M96.0 226.0C98.7 223.8 107.3 217.0 112.0 213.0C116.7 209.0 120.0 206.2 124.0 202.0C128.0 197.8 134.0 190.3 136.0 188.0" stroke="#a8a8a8" stroke-width="2.0"/>
<path d="M104.0 226.0C106.3 224.2 112.7 219.7 118.0 215.0C123.3 210.3 133.0 200.8 136.0 198.0" stroke="#646464" stroke-width="2.0"/>
<path d="M112.0 226.0C114.0 224.5 120.0 220.2 124.0 217.0C128.0 213.8 134.0 208.7 136.0 207.0" stroke="#9c9c9c" stroke-width="1.8"/>
<path d="M120.0 226.0C122.7 224.0 133.3 216.0 136.0 214.0" stroke="#6c6c6c" stroke-width="1.8"/>
<path d="M29.5 183.2C30.3 183.3 31.6 183.5 34.4 184.0C37.2 184.5 42.2 185.4 46.2 186.0C50.3 186.6 54.4 187.2 58.6 187.6C62.7 188.0 66.9 188.3 70.9 188.5C74.9 188.7 78.9 189.1 82.7 188.8C86.5 188.6 90.1 187.8 93.6 187.0C97.0 186.2 100.8 184.7 103.4 183.8C106.0 182.9 107.4 182.3 109.0 181.4C110.7 180.5 111.3 179.8 113.3 178.2C115.3 176.6 119.0 173.8 121.2 171.8C123.3 169.8 124.6 167.9 126.1 166.1C127.6 164.4 128.9 162.7 130.0 161.3C131.2 159.9 131.7 159.4 133.0 157.8C134.3 156.2 137.1 152.8 137.9 151.8" stroke="#969696" stroke-width="2.4"/>
<path d="M29.5 187.9C30.3 188.0 31.6 188.2 34.4 188.7C37.2 189.2 42.2 190.1 46.2 190.7C50.3 191.3 54.4 191.9 58.6 192.3C62.7 192.7 66.9 193.0 70.9 193.2C74.9 193.4 78.9 193.8 82.7 193.5C86.5 193.2 90.1 192.5 93.6 191.7C97.0 190.9 100.8 189.4 103.4 188.5C106.0 187.6 107.4 187.0 109.0 186.1C110.7 185.2 111.3 184.5 113.3 182.9C115.3 181.3 119.0 178.5 121.2 176.5C123.3 174.5 124.6 172.6 126.1 170.8C127.6 169.1 128.9 167.4 130.0 166.0C131.2 164.6 131.7 164.1 133.0 162.5C134.3 160.9 137.1 157.5 137.9 156.5" stroke="#2a2a2a" stroke-width="3.2"/>
<path d="M29.5 205.6C30.3 205.7 32.8 206.1 34.4 206.4C36.0 206.7 37.7 206.9 39.3 207.1C41.0 207.3 42.6 207.6 44.3 207.8C45.9 208.0 47.5 208.2 49.2 208.4C50.8 208.6 52.5 208.7 54.1 208.9C55.8 209.0 57.4 209.2 59.1 209.3C60.7 209.5 62.3 209.5 64.0 209.7C65.6 209.8 67.3 209.9 68.9 210.0C70.6 210.1 72.2 210.1 73.8 210.2C75.5 210.2 77.1 210.2 78.8 210.2C80.4 210.2 82.1 210.2 83.7 210.1C85.3 210.0 87.0 209.8 88.6 209.6C90.3 209.4 91.9 209.4 93.6 209.1C95.2 208.8 96.8 208.4 98.5 208.1C100.1 207.8 101.8 207.4 103.4 207.1C105.1 206.8 106.7 206.7 108.3 206.1C110.0 205.5 111.6 204.6 113.3 203.7C114.9 202.8 116.6 201.8 118.2 200.7C119.9 199.6 121.5 198.5 123.1 197.0C124.8 195.6 126.4 193.7 128.1 191.9C129.7 190.2 131.4 188.3 133.0 186.4C134.6 184.5 137.1 181.4 137.9 180.4" stroke="#acacac" stroke-width="2.8"/>
<path d="M29.5 209.7C30.3 209.8 32.8 210.2 34.4 210.5C36.0 210.8 37.7 211.0 39.3 211.2C41.0 211.4 42.6 211.7 44.3 211.9C45.9 212.1 47.5 212.3 49.2 212.5C50.8 212.7 52.5 212.8 54.1 213.0C55.8 213.1 57.4 213.3 59.1 213.4C60.7 213.6 62.3 213.6 64.0 213.8C65.6 213.9 67.3 214.0 68.9 214.1C70.6 214.2 72.2 214.2 73.8 214.3C75.5 214.3 77.1 214.3 78.8 214.3C80.4 214.3 82.1 214.3 83.7 214.2C85.3 214.1 87.0 213.9 88.6 213.7C90.3 213.5 91.9 213.5 93.6 213.2C95.2 212.9 96.8 212.5 98.5 212.2C100.1 211.9 101.8 211.5 103.4 211.2C105.1 210.9 106.7 210.8 108.3 210.2C110.0 209.6 111.6 208.7 113.3 207.8C114.9 206.9 116.6 205.9 118.2 204.8C119.9 203.7 121.5 202.6 123.1 201.1C124.8 199.7 126.4 197.8 128.1 196.0C129.7 194.3 131.4 192.4 133.0 190.5C134.6 188.6 137.1 185.5 137.9 184.5" stroke="#6a6a6a" stroke-width="2.4"/>
<path d="M29.5 213.5C30.3 213.6 32.8 214.0 34.4 214.3C36.0 214.6 37.7 214.8 39.3 215.0C41.0 215.2 42.6 215.5 44.3 215.7C45.9 215.9 47.5 216.1 49.2 216.3C50.8 216.5 52.5 216.6 54.1 216.8C55.8 216.9 57.4 217.1 59.1 217.2C60.7 217.4 62.3 217.4 64.0 217.6C65.6 217.7 67.3 217.8 68.9 217.9C70.6 218.0 72.2 218.0 73.8 218.1C75.5 218.1 77.1 218.1 78.8 218.1C80.4 218.1 82.1 218.1 83.7 218.0C85.3 217.9 87.0 217.7 88.6 217.5C90.3 217.3 91.9 217.3 93.6 217.0C95.2 216.7 96.8 216.3 98.5 216.0C100.1 215.7 101.8 215.3 103.4 215.0C105.1 214.7 106.7 214.6 108.3 214.0C110.0 213.4 111.6 212.5 113.3 211.6C114.9 210.7 116.6 209.7 118.2 208.6C119.9 207.5 121.5 206.4 123.1 204.9C124.8 203.5 126.4 201.6 128.1 199.8C129.7 198.1 131.4 196.2 133.0 194.3C134.6 192.4 137.1 189.3 137.9 188.3" stroke="#909090" stroke-width="2.2"/>
<path d="M29.5 217.3C30.3 217.4 32.8 217.8 34.4 218.1C36.0 218.4 37.7 218.6 39.3 218.8C41.0 219.0 42.6 219.3 44.3 219.5C45.9 219.7 47.5 219.9 49.2 220.1C50.8 220.3 52.5 220.4 54.1 220.6C55.8 220.7 57.4 220.9 59.1 221.0C60.7 221.2 62.3 221.2 64.0 221.4C65.6 221.5 67.3 221.6 68.9 221.7C70.6 221.8 72.2 221.8 73.8 221.9C75.5 221.9 77.1 221.9 78.8 221.9C80.4 221.9 82.1 221.9 83.7 221.8C85.3 221.7 87.0 221.5 88.6 221.3C90.3 221.1 91.9 221.1 93.6 220.8C95.2 220.5 96.8 220.1 98.5 219.8C100.1 219.5 101.8 219.1 103.4 218.8C105.1 218.5 106.7 218.4 108.3 217.8C110.0 217.2 111.6 216.3 113.3 215.4C114.9 214.5 116.6 213.5 118.2 212.4C119.9 211.3 121.5 210.2 123.1 208.7C124.8 207.3 126.4 205.4 128.1 203.6C129.7 201.9 131.4 200.0 133.0 198.1C134.6 196.2 137.1 193.1 137.9 192.1" stroke="#787878" stroke-width="2.0"/>
<path d="M29.5 193.4C30.3 193.5 31.6 193.7 34.4 194.2C37.2 194.7 42.2 195.6 46.2 196.2C50.3 196.8 54.4 197.4 58.6 197.8C62.7 198.2 66.9 198.5 70.9 198.7C74.9 198.9 78.9 199.2 82.7 199.0C86.5 198.8 90.1 198.0 93.6 197.2C97.0 196.4 100.8 194.9 103.4 194.0C106.0 193.1 107.4 192.5 109.0 191.6C110.7 190.7 111.3 190.0 113.3 188.4C115.3 186.8 119.0 184.0 121.2 182.0C123.3 180.0 124.6 178.1 126.1 176.3C127.6 174.6 128.9 172.9 130.0 171.5C131.2 170.1 131.7 169.6 133.0 168.0C134.3 166.4 137.1 163.0 137.9 162.0" stroke="url(#wg0)" stroke-width="4.4"/>
<path d="M29.5 200.7C30.3 200.8 32.8 201.2 34.4 201.5C36.0 201.8 37.7 202.0 39.3 202.2C41.0 202.4 42.6 202.7 44.3 202.9C45.9 203.1 47.5 203.3 49.2 203.5C50.8 203.7 52.5 203.8 54.1 204.0C55.8 204.1 57.4 204.3 59.1 204.4C60.7 204.6 62.3 204.6 64.0 204.8C65.6 204.9 67.3 205.0 68.9 205.1C70.6 205.2 72.2 205.2 73.8 205.3C75.5 205.3 77.1 205.3 78.8 205.3C80.4 205.3 82.1 205.3 83.7 205.2C85.3 205.1 87.0 204.9 88.6 204.7C90.3 204.5 91.9 204.5 93.6 204.2C95.2 203.9 96.8 203.5 98.5 203.2C100.1 202.9 101.8 202.5 103.4 202.2C105.1 201.9 106.7 201.8 108.3 201.2C110.0 200.6 111.6 199.7 113.3 198.8C114.9 197.9 116.6 196.9 118.2 195.8C119.9 194.7 121.5 193.6 123.1 192.1C124.8 190.7 126.4 188.8 128.1 187.0C129.7 185.3 131.4 183.4 133.0 181.5C134.6 179.6 137.1 176.5 137.9 175.5" stroke="url(#kg0)" stroke-width="4.4"/>
</g></g>
<g clip-path="url(#ct1)"><rect x="134.0" y="172.4" width="102.5" height="53.1" fill="#828282"/>
<linearGradient id="wg1" gradientUnits="userSpaceOnUse" x1="204.9" y1="0" x2="234.5" y2="0"><stop offset="0" stop-color="#ffffff"/><stop offset="1" stop-color="#cccccc"/></linearGradient>
<linearGradient id="kg1" gradientUnits="userSpaceOnUse" x1="190.2" y1="0" x2="234.5" y2="0"><stop offset="0" stop-color="#000000"/><stop offset="1" stop-color="#3c3c3c"/></linearGradient>
<g filter="url(#bf)" fill="none">
<path d="M131.1 181.2C131.9 181.4 133.5 181.6 136.0 182.1C138.5 182.6 142.2 183.5 145.8 184.2C149.5 185.0 154.1 185.9 158.2 186.6C162.3 187.3 166.6 188.0 170.5 188.4C174.3 188.8 178.5 189.2 181.3 189.3C184.1 189.4 184.4 189.3 187.2 189.0C190.0 188.7 194.2 188.3 198.1 187.4C201.9 186.5 206.5 185.0 210.6 183.8C214.7 182.6 218.9 181.1 222.7 180.0C226.4 178.9 230.2 177.9 233.0 177.2C235.8 176.5 238.4 176.0 239.4 175.8" stroke="#969696" stroke-width="2.4"/>
<path d="M131.1 185.9C131.9 186.1 133.5 186.3 136.0 186.8C138.5 187.3 142.2 188.2 145.8 188.9C149.5 189.7 154.1 190.6 158.2 191.3C162.3 192.0 166.6 192.7 170.5 193.1C174.3 193.5 178.5 193.9 181.3 194.0C184.1 194.1 184.4 194.0 187.2 193.7C190.0 193.4 194.2 193.0 198.1 192.1C201.9 191.2 206.5 189.7 210.6 188.5C214.7 187.3 218.9 185.8 222.7 184.7C226.4 183.6 230.2 182.6 233.0 181.9C235.8 181.2 238.4 180.7 239.4 180.5" stroke="#484848" stroke-width="2.8"/>
<path d="M131.1 202.5C131.9 202.7 134.4 203.0 136.0 203.4C137.6 203.8 139.3 204.3 140.9 204.7C142.6 205.1 144.2 205.6 145.8 206.0C147.5 206.4 149.1 206.6 150.8 207.0C152.4 207.3 154.1 207.6 155.7 207.9C157.3 208.2 159.0 208.5 160.6 208.8C162.3 209.0 163.9 209.2 165.6 209.5C167.2 209.7 168.8 210.0 170.5 210.2C172.1 210.4 173.8 210.4 175.4 210.5C177.0 210.6 178.7 210.7 180.3 210.8C182.0 210.8 183.6 210.6 185.2 210.5C186.9 210.4 188.5 210.1 190.2 209.9C191.8 209.7 193.5 209.4 195.1 209.2C196.7 208.9 198.4 208.6 200.0 208.2C201.7 207.9 203.3 207.4 204.9 207.0C206.6 206.6 208.2 206.2 209.9 205.8C211.5 205.4 213.2 204.9 214.8 204.5C216.4 204.0 218.1 203.6 219.7 203.2C221.4 202.7 223.0 202.3 224.7 201.9C226.3 201.5 227.9 201.0 229.6 200.6C231.2 200.2 232.9 199.8 234.5 199.4C236.1 199.0 238.6 198.5 239.4 198.3" stroke="#acacac" stroke-width="2.8"/>
<path d="M131.1 206.6C131.9 206.8 134.4 207.1 136.0 207.5C137.6 207.9 139.3 208.4 140.9 208.8C142.6 209.2 144.2 209.7 145.8 210.1C147.5 210.5 149.1 210.7 150.8 211.1C152.4 211.4 154.1 211.7 155.7 212.0C157.3 212.3 159.0 212.6 160.6 212.9C162.3 213.1 163.9 213.3 165.6 213.6C167.2 213.8 168.8 214.1 170.5 214.3C172.1 214.5 173.8 214.5 175.4 214.6C177.0 214.7 178.7 214.8 180.3 214.9C182.0 214.9 183.6 214.7 185.2 214.6C186.9 214.5 188.5 214.2 190.2 214.0C191.8 213.8 193.5 213.5 195.1 213.3C196.7 213.0 198.4 212.7 200.0 212.3C201.7 212.0 203.3 211.5 204.9 211.1C206.6 210.7 208.2 210.3 209.9 209.9C211.5 209.5 213.2 209.0 214.8 208.6C216.4 208.1 218.1 207.7 219.7 207.3C221.4 206.8 223.0 206.4 224.7 206.0C226.3 205.6 227.9 205.1 229.6 204.7C231.2 204.3 232.9 203.9 234.5 203.5C236.1 203.1 238.6 202.6 239.4 202.4" stroke="#6a6a6a" stroke-width="2.4"/>
<path d="M131.1 210.4C131.9 210.6 134.4 210.9 136.0 211.3C137.6 211.7 139.3 212.2 140.9 212.6C142.6 213.0 144.2 213.5 145.8 213.9C147.5 214.3 149.1 214.5 150.8 214.9C152.4 215.2 154.1 215.5 155.7 215.8C157.3 216.1 159.0 216.4 160.6 216.7C162.3 216.9 163.9 217.1 165.6 217.4C167.2 217.6 168.8 217.9 170.5 218.1C172.1 218.3 173.8 218.3 175.4 218.4C177.0 218.5 178.7 218.6 180.3 218.7C182.0 218.7 183.6 218.5 185.2 218.4C186.9 218.3 188.5 218.0 190.2 217.8C191.8 217.6 193.5 217.3 195.1 217.1C196.7 216.8 198.4 216.5 200.0 216.1C201.7 215.8 203.3 215.3 204.9 214.9C206.6 214.5 208.2 214.1 209.9 213.7C211.5 213.3 213.2 212.8 214.8 212.4C216.4 211.9 218.1 211.5 219.7 211.1C221.4 210.6 223.0 210.2 224.7 209.8C226.3 209.4 227.9 208.9 229.6 208.5C231.2 208.1 232.9 207.7 234.5 207.3C236.1 206.9 238.6 206.4 239.4 206.2" stroke="#909090" stroke-width="2.2"/>
<path d="M131.1 214.2C131.9 214.3 134.4 214.7 136.0 215.1C137.6 215.5 139.3 216.0 140.9 216.4C142.6 216.8 144.2 217.3 145.8 217.7C147.5 218.1 149.1 218.3 150.8 218.7C152.4 219.0 154.1 219.3 155.7 219.6C157.3 219.9 159.0 220.2 160.6 220.5C162.3 220.7 163.9 220.9 165.6 221.2C167.2 221.4 168.8 221.7 170.5 221.9C172.1 222.1 173.8 222.1 175.4 222.2C177.0 222.3 178.7 222.4 180.3 222.5C182.0 222.5 183.6 222.3 185.2 222.2C186.9 222.1 188.5 221.8 190.2 221.6C191.8 221.4 193.5 221.1 195.1 220.9C196.7 220.6 198.4 220.3 200.0 219.9C201.7 219.6 203.3 219.1 204.9 218.7C206.6 218.3 208.2 217.9 209.9 217.5C211.5 217.1 213.2 216.6 214.8 216.2C216.4 215.7 218.1 215.3 219.7 214.9C221.4 214.4 223.0 214.0 224.7 213.6C226.3 213.2 227.9 212.7 229.6 212.3C231.2 211.9 232.9 211.5 234.5 211.1C236.1 210.7 238.6 210.2 239.4 210.0" stroke="#787878" stroke-width="2.0"/>
<path d="M131.1 191.4C131.9 191.6 133.5 191.8 136.0 192.3C138.5 192.8 142.2 193.7 145.8 194.4C149.5 195.2 154.1 196.1 158.2 196.8C162.3 197.5 166.6 198.2 170.5 198.6C174.3 199.0 178.5 199.4 181.3 199.5C184.1 199.6 184.4 199.5 187.2 199.2C190.0 198.9 194.2 198.5 198.1 197.6C201.9 196.7 206.5 195.2 210.6 194.0C214.7 192.8 218.9 191.3 222.7 190.2C226.4 189.1 230.2 188.1 233.0 187.4C235.8 186.7 238.4 186.2 239.4 186.0" stroke="url(#wg1)" stroke-width="5.0"/>
<path d="M131.1 197.6C131.9 197.8 134.4 198.1 136.0 198.5C137.6 198.9 139.3 199.4 140.9 199.8C142.6 200.2 144.2 200.7 145.8 201.1C147.5 201.5 149.1 201.7 150.8 202.1C152.4 202.4 154.1 202.7 155.7 203.0C157.3 203.3 159.0 203.6 160.6 203.9C162.3 204.1 163.9 204.3 165.6 204.6C167.2 204.8 168.8 205.1 170.5 205.3C172.1 205.5 173.8 205.5 175.4 205.6C177.0 205.7 178.7 205.8 180.3 205.9C182.0 205.9 183.6 205.7 185.2 205.6C186.9 205.5 188.5 205.2 190.2 205.0C191.8 204.8 193.5 204.5 195.1 204.3C196.7 204.0 198.4 203.7 200.0 203.3C201.7 203.0 203.3 202.5 204.9 202.1C206.6 201.7 208.2 201.3 209.9 200.9C211.5 200.5 213.2 200.0 214.8 199.6C216.4 199.1 218.1 198.7 219.7 198.3C221.4 197.8 223.0 197.4 224.7 197.0C226.3 196.6 227.9 196.1 229.6 195.7C231.2 195.3 232.9 194.9 234.5 194.5C236.1 194.1 238.6 193.6 239.4 193.4" stroke="url(#kg1)" stroke-width="4.4"/>
</g></g>
<g clip-path="url(#ct2)"><rect x="235.8" y="172.4" width="102.5" height="53.1" fill="#828282"/>
<linearGradient id="wg2" gradientUnits="userSpaceOnUse" x1="306.8" y1="0" x2="336.3" y2="0"><stop offset="0" stop-color="#ffffff"/><stop offset="1" stop-color="#cccccc"/></linearGradient>
<linearGradient id="kg2" gradientUnits="userSpaceOnUse" x1="306.8" y1="0" x2="336.3" y2="0"><stop offset="0" stop-color="#000000"/><stop offset="1" stop-color="#2c2c2c"/></linearGradient>
<g filter="url(#bf)" fill="none">
<path d="M232.9 179.8C233.7 180.0 235.2 180.2 237.8 180.8C240.4 181.4 244.5 182.5 248.6 183.4C252.7 184.3 258.1 185.3 262.4 186.0C266.8 186.7 271.1 187.4 274.7 187.8C278.3 188.2 281.2 188.4 284.1 188.4C287.0 188.4 289.7 188.1 292.0 187.8C294.3 187.5 294.5 187.4 297.9 186.8C301.3 186.2 308.0 185.2 312.5 184.2C316.9 183.3 321.0 182.0 324.8 181.1C328.6 180.2 332.5 179.3 335.2 178.7C338.0 178.1 340.2 177.6 341.2 177.4" stroke="#969696" stroke-width="2.4"/>
<path d="M232.9 184.5C233.7 184.7 235.2 184.9 237.8 185.5C240.4 186.1 244.5 187.2 248.6 188.1C252.7 189.0 258.1 190.0 262.4 190.7C266.8 191.4 271.1 192.1 274.7 192.5C278.3 192.9 281.2 193.1 284.1 193.1C287.0 193.1 289.7 192.8 292.0 192.5C294.3 192.2 294.5 192.1 297.9 191.5C301.3 190.9 308.0 189.8 312.5 188.9C316.9 188.0 321.0 186.7 324.8 185.8C328.6 184.9 332.5 184.0 335.2 183.4C338.0 182.8 340.2 182.3 341.2 182.1" stroke="#4a4a4a" stroke-width="2.8"/>
<path d="M232.9 201.7C233.7 201.9 236.2 202.4 237.8 202.7C239.4 203.0 241.1 203.3 242.7 203.6C244.4 203.9 246.0 204.2 247.7 204.5C249.3 204.8 250.9 205.0 252.6 205.3C254.2 205.5 255.9 205.7 257.5 206.0C259.1 206.2 260.8 206.5 262.4 206.7C264.1 206.9 265.7 207.2 267.4 207.4C269.0 207.7 270.6 207.9 272.3 208.1C273.9 208.3 275.6 208.5 277.2 208.7C278.8 208.8 280.5 209.1 282.1 209.2C283.8 209.3 285.4 209.3 287.1 209.3C288.7 209.3 290.3 209.4 292.0 209.3C293.6 209.2 295.3 209.0 296.9 208.8C298.5 208.6 300.2 208.5 301.8 208.3C303.5 208.1 305.1 208.0 306.8 207.8C308.4 207.6 310.0 207.4 311.7 207.3C313.3 207.1 315.0 207.0 316.6 206.8C318.2 206.6 319.9 206.5 321.5 206.3C323.2 206.1 324.8 206.0 326.5 205.8C328.1 205.6 329.7 205.4 331.4 205.2C333.0 205.0 334.7 204.8 336.3 204.6C337.9 204.3 340.4 203.7 341.2 203.5" stroke="#acacac" stroke-width="2.8"/>
<path d="M232.9 205.8C233.7 206.0 236.2 206.5 237.8 206.8C239.4 207.1 241.1 207.4 242.7 207.7C244.4 208.0 246.0 208.3 247.7 208.6C249.3 208.9 250.9 209.1 252.6 209.4C254.2 209.6 255.9 209.8 257.5 210.1C259.1 210.3 260.8 210.6 262.4 210.8C264.1 211.0 265.7 211.3 267.4 211.5C269.0 211.8 270.6 212.0 272.3 212.2C273.9 212.4 275.6 212.6 277.2 212.8C278.8 212.9 280.5 213.2 282.1 213.3C283.8 213.4 285.4 213.4 287.1 213.4C288.7 213.4 290.3 213.5 292.0 213.4C293.6 213.3 295.3 213.1 296.9 212.9C298.5 212.7 300.2 212.6 301.8 212.4C303.5 212.2 305.1 212.1 306.8 211.9C308.4 211.7 310.0 211.5 311.7 211.4C313.3 211.2 315.0 211.1 316.6 210.9C318.2 210.7 319.9 210.6 321.5 210.4C323.2 210.2 324.8 210.1 326.5 209.9C328.1 209.7 329.7 209.5 331.4 209.3C333.0 209.1 334.7 208.9 336.3 208.7C337.9 208.4 340.4 207.8 341.2 207.6" stroke="#6a6a6a" stroke-width="2.4"/>
<path d="M232.9 209.6C233.7 209.8 236.2 210.3 237.8 210.6C239.4 210.9 241.1 211.2 242.7 211.5C244.4 211.8 246.0 212.1 247.7 212.4C249.3 212.7 250.9 212.9 252.6 213.2C254.2 213.4 255.9 213.6 257.5 213.9C259.1 214.1 260.8 214.4 262.4 214.6C264.1 214.8 265.7 215.1 267.4 215.3C269.0 215.6 270.6 215.8 272.3 216.0C273.9 216.2 275.6 216.4 277.2 216.6C278.8 216.7 280.5 217.0 282.1 217.1C283.8 217.2 285.4 217.2 287.1 217.2C288.7 217.2 290.3 217.3 292.0 217.2C293.6 217.1 295.3 216.9 296.9 216.7C298.5 216.5 300.2 216.4 301.8 216.2C303.5 216.0 305.1 215.9 306.8 215.7C308.4 215.5 310.0 215.3 311.7 215.2C313.3 215.0 315.0 214.9 316.6 214.7C318.2 214.5 319.9 214.4 321.5 214.2C323.2 214.0 324.8 213.9 326.5 213.7C328.1 213.5 329.7 213.3 331.4 213.1C333.0 212.9 334.7 212.7 336.3 212.5C337.9 212.2 340.4 211.6 341.2 211.4" stroke="#909090" stroke-width="2.2"/>
<path d="M232.9 213.4C233.7 213.6 236.2 214.1 237.8 214.4C239.4 214.7 241.1 215.0 242.7 215.3C244.4 215.6 246.0 215.9 247.7 216.2C249.3 216.5 250.9 216.7 252.6 217.0C254.2 217.2 255.9 217.4 257.5 217.7C259.1 217.9 260.8 218.2 262.4 218.4C264.1 218.6 265.7 218.9 267.4 219.1C269.0 219.4 270.6 219.6 272.3 219.8C273.9 220.0 275.6 220.2 277.2 220.4C278.8 220.5 280.5 220.8 282.1 220.9C283.8 221.0 285.4 221.0 287.1 221.0C288.7 221.0 290.3 221.1 292.0 221.0C293.6 220.9 295.3 220.7 296.9 220.5C298.5 220.3 300.2 220.2 301.8 220.0C303.5 219.8 305.1 219.7 306.8 219.5C308.4 219.3 310.0 219.1 311.7 219.0C313.3 218.8 315.0 218.7 316.6 218.5C318.2 218.3 319.9 218.2 321.5 218.0C323.2 217.8 324.8 217.7 326.5 217.5C328.1 217.3 329.7 217.1 331.4 216.9C333.0 216.7 334.7 216.5 336.3 216.3C337.9 216.0 340.4 215.4 341.2 215.2" stroke="#787878" stroke-width="2.0"/>
<path d="M232.9 190.0C233.7 190.2 235.2 190.4 237.8 191.0C240.4 191.6 244.5 192.7 248.6 193.6C252.7 194.5 258.1 195.5 262.4 196.2C266.8 196.9 271.1 197.6 274.7 198.0C278.3 198.4 281.2 198.6 284.1 198.6C287.0 198.6 289.7 198.3 292.0 198.0C294.3 197.7 294.5 197.6 297.9 197.0C301.3 196.4 308.0 195.3 312.5 194.4C316.9 193.5 321.0 192.2 324.8 191.3C328.6 190.4 332.5 189.5 335.2 188.9C338.0 188.3 340.2 187.8 341.2 187.6" stroke="url(#wg2)" stroke-width="4.6"/>
<path d="M232.9 196.8C233.7 197.0 236.2 197.5 237.8 197.8C239.4 198.1 241.1 198.4 242.7 198.7C244.4 199.0 246.0 199.3 247.7 199.6C249.3 199.9 250.9 200.1 252.6 200.4C254.2 200.6 255.9 200.8 257.5 201.1C259.1 201.3 260.8 201.6 262.4 201.8C264.1 202.0 265.7 202.3 267.4 202.5C269.0 202.8 270.6 203.0 272.3 203.2C273.9 203.4 275.6 203.6 277.2 203.8C278.8 203.9 280.5 204.2 282.1 204.3C283.8 204.4 285.4 204.4 287.1 204.4C288.7 204.4 290.3 204.5 292.0 204.4C293.6 204.3 295.3 204.1 296.9 203.9C298.5 203.7 300.2 203.6 301.8 203.4C303.5 203.2 305.1 203.1 306.8 202.9C308.4 202.7 310.0 202.5 311.7 202.4C313.3 202.2 315.0 202.1 316.6 201.9C318.2 201.7 319.9 201.6 321.5 201.4C323.2 201.2 324.8 201.1 326.5 200.9C328.1 200.7 329.7 200.5 331.4 200.3C333.0 200.1 334.7 199.9 336.3 199.7C337.9 199.4 340.4 198.8 341.2 198.6" stroke="url(#kg2)" stroke-width="4.4"/>
</g></g>
<g clip-path="url(#ct3)"><rect x="338.0" y="173.2" width="102.4" height="52.2" fill="#828282"/>
<linearGradient id="wg3" gradientUnits="userSpaceOnUse" x1="418.7" y1="0" x2="438.4" y2="0"><stop offset="0" stop-color="#ffffff"/><stop offset="1" stop-color="#e0e0e0"/></linearGradient>
<linearGradient id="kg3" gradientUnits="userSpaceOnUse" x1="413.8" y1="0" x2="438.4" y2="0"><stop offset="0" stop-color="#000000"/><stop offset="1" stop-color="#242424"/></linearGradient>
<g filter="url(#bf)" fill="none">
<path d="M335.1 178.8C335.9 179.0 337.4 179.1 340.0 179.8C342.6 180.5 346.7 181.9 350.8 182.8C354.9 183.7 360.3 184.6 364.6 185.4C368.9 186.2 372.8 187.1 376.9 187.6C381.0 188.1 385.3 188.3 389.2 188.5C393.1 188.7 396.6 188.8 400.0 188.6C403.5 188.4 406.6 187.9 409.9 187.4C413.1 186.9 416.6 186.3 419.7 185.8C422.8 185.3 425.4 184.9 428.6 184.6C431.7 184.3 435.9 184.0 438.4 183.8C440.9 183.6 442.5 183.5 443.3 183.4" stroke="#969696" stroke-width="2.4"/>
<path d="M335.1 183.5C335.9 183.7 337.4 183.8 340.0 184.5C342.6 185.2 346.7 186.6 350.8 187.5C354.9 188.4 360.3 189.3 364.6 190.1C368.9 190.9 372.8 191.8 376.9 192.3C381.0 192.8 385.3 193.0 389.2 193.2C393.1 193.4 396.6 193.5 400.0 193.3C403.5 193.1 406.6 192.6 409.9 192.1C413.1 191.6 416.6 191.0 419.7 190.5C422.8 190.0 425.4 189.6 428.6 189.3C431.7 189.0 435.9 188.7 438.4 188.5C440.9 188.3 442.5 188.2 443.3 188.1" stroke="#4a4a4a" stroke-width="2.8"/>
<path d="M335.1 200.0C335.9 200.2 338.4 200.6 340.0 201.0C341.6 201.4 343.3 201.9 344.9 202.4C346.6 202.8 348.2 203.3 349.8 203.7C351.5 204.1 353.1 204.4 354.8 204.7C356.4 205.1 358.0 205.4 359.7 205.7C361.3 206.0 363.0 206.3 364.6 206.6C366.2 206.9 367.9 207.1 369.5 207.3C371.2 207.6 372.8 207.9 374.4 208.1C376.1 208.3 377.7 208.4 379.4 208.6C381.0 208.7 382.6 208.9 384.3 209.1C385.9 209.3 387.6 209.5 389.2 209.6C390.8 209.7 392.5 209.8 394.1 209.9C395.8 210.1 397.4 210.3 399.0 210.3C400.7 210.3 402.3 210.0 404.0 209.8C405.6 209.7 407.2 209.5 408.9 209.3C410.5 209.1 412.2 208.8 413.8 208.5C415.4 208.3 417.1 208.0 418.7 207.8C420.4 207.5 422.0 207.3 423.6 207.1C425.3 206.9 426.9 206.6 428.6 206.5C430.2 206.3 431.8 206.2 433.5 206.1C435.1 206.0 436.8 205.8 438.4 205.7C440.0 205.6 442.5 205.4 443.3 205.3" stroke="#acacac" stroke-width="2.8"/>
<path d="M335.1 204.1C335.9 204.3 338.4 204.7 340.0 205.1C341.6 205.5 343.3 206.0 344.9 206.5C346.6 206.9 348.2 207.4 349.8 207.8C351.5 208.2 353.1 208.5 354.8 208.8C356.4 209.2 358.0 209.5 359.7 209.8C361.3 210.1 363.0 210.4 364.6 210.7C366.2 211.0 367.9 211.2 369.5 211.4C371.2 211.7 372.8 212.0 374.4 212.2C376.1 212.4 377.7 212.5 379.4 212.7C381.0 212.8 382.6 213.0 384.3 213.2C385.9 213.4 387.6 213.6 389.2 213.7C390.8 213.8 392.5 213.9 394.1 214.0C395.8 214.2 397.4 214.4 399.0 214.4C400.7 214.4 402.3 214.1 404.0 213.9C405.6 213.8 407.2 213.6 408.9 213.4C410.5 213.2 412.2 212.9 413.8 212.6C415.4 212.4 417.1 212.1 418.7 211.9C420.4 211.6 422.0 211.4 423.6 211.2C425.3 211.0 426.9 210.7 428.6 210.6C430.2 210.4 431.8 210.3 433.5 210.2C435.1 210.1 436.8 209.9 438.4 209.8C440.0 209.7 442.5 209.5 443.3 209.4" stroke="#6a6a6a" stroke-width="2.4"/>
<path d="M335.1 207.9C335.9 208.1 338.4 208.5 340.0 208.9C341.6 209.3 343.3 209.8 344.9 210.3C346.6 210.7 348.2 211.2 349.8 211.6C351.5 212.0 353.1 212.3 354.8 212.6C356.4 213.0 358.0 213.3 359.7 213.6C361.3 213.9 363.0 214.2 364.6 214.5C366.2 214.8 367.9 215.0 369.5 215.2C371.2 215.5 372.8 215.8 374.4 216.0C376.1 216.2 377.7 216.3 379.4 216.5C381.0 216.6 382.6 216.8 384.3 217.0C385.9 217.2 387.6 217.4 389.2 217.5C390.8 217.6 392.5 217.7 394.1 217.8C395.8 218.0 397.4 218.2 399.0 218.2C400.7 218.2 402.3 217.9 404.0 217.7C405.6 217.6 407.2 217.4 408.9 217.2C410.5 217.0 412.2 216.7 413.8 216.4C415.4 216.2 417.1 215.9 418.7 215.7C420.4 215.4 422.0 215.2 423.6 215.0C425.3 214.8 426.9 214.5 428.6 214.4C430.2 214.2 431.8 214.1 433.5 214.0C435.1 213.9 436.8 213.7 438.4 213.6C440.0 213.5 442.5 213.3 443.3 213.2" stroke="#909090" stroke-width="2.2"/>
<path d="M335.1 211.7C335.9 211.9 338.4 212.3 340.0 212.7C341.6 213.1 343.3 213.6 344.9 214.1C346.6 214.5 348.2 215.0 349.8 215.4C351.5 215.8 353.1 216.1 354.8 216.4C356.4 216.8 358.0 217.1 359.7 217.4C361.3 217.7 363.0 218.0 364.6 218.3C366.2 218.6 367.9 218.8 369.5 219.0C371.2 219.3 372.8 219.6 374.4 219.8C376.1 220.0 377.7 220.1 379.4 220.3C381.0 220.4 382.6 220.6 384.3 220.8C385.9 221.0 387.6 221.2 389.2 221.3C390.8 221.4 392.5 221.5 394.1 221.6C395.8 221.8 397.4 222.0 399.0 222.0C400.7 222.0 402.3 221.7 404.0 221.5C405.6 221.4 407.2 221.2 408.9 221.0C410.5 220.8 412.2 220.5 413.8 220.2C415.4 220.0 417.1 219.7 418.7 219.5C420.4 219.2 422.0 219.0 423.6 218.8C425.3 218.6 426.9 218.3 428.6 218.2C430.2 218.0 431.8 217.9 433.5 217.8C435.1 217.7 436.8 217.5 438.4 217.4C440.0 217.3 442.5 217.1 443.3 217.0" stroke="#787878" stroke-width="2.0"/>
<path d="M335.1 189.0C335.9 189.2 337.4 189.3 340.0 190.0C342.6 190.7 346.7 192.1 350.8 193.0C354.9 193.9 360.3 194.8 364.6 195.6C368.9 196.4 372.8 197.3 376.9 197.8C381.0 198.3 385.3 198.5 389.2 198.7C393.1 198.9 396.6 199.0 400.0 198.8C403.5 198.6 406.6 198.1 409.9 197.6C413.1 197.1 416.6 196.5 419.7 196.0C422.8 195.5 425.4 195.1 428.6 194.8C431.7 194.5 435.9 194.2 438.4 194.0C440.9 193.8 442.5 193.7 443.3 193.6" stroke="url(#wg3)" stroke-width="4.6"/>
<path d="M335.1 195.1C335.9 195.3 338.4 195.7 340.0 196.1C341.6 196.5 343.3 197.0 344.9 197.5C346.6 197.9 348.2 198.4 349.8 198.8C351.5 199.2 353.1 199.5 354.8 199.8C356.4 200.2 358.0 200.5 359.7 200.8C361.3 201.1 363.0 201.4 364.6 201.7C366.2 202.0 367.9 202.2 369.5 202.4C371.2 202.7 372.8 203.0 374.4 203.2C376.1 203.4 377.7 203.5 379.4 203.7C381.0 203.8 382.6 204.0 384.3 204.2C385.9 204.4 387.6 204.6 389.2 204.7C390.8 204.8 392.5 204.9 394.1 205.0C395.8 205.2 397.4 205.4 399.0 205.4C400.7 205.4 402.3 205.1 404.0 204.9C405.6 204.8 407.2 204.6 408.9 204.4C410.5 204.2 412.2 203.9 413.8 203.6C415.4 203.4 417.1 203.1 418.7 202.9C420.4 202.6 422.0 202.4 423.6 202.2C425.3 202.0 426.9 201.7 428.6 201.6C430.2 201.4 431.8 201.3 433.5 201.2C435.1 201.1 436.8 200.9 438.4 200.8C440.0 200.7 442.5 200.5 443.3 200.4" stroke="url(#kg3)" stroke-width="4.4"/>
</g></g>
<g clip-path="url(#ct4)"><rect x="440.8" y="173.5" width="102.8" height="52.0" fill="#828282"/>
<linearGradient id="wg4" gradientUnits="userSpaceOnUse" x1="526.8" y1="0" x2="541.6" y2="0"><stop offset="0" stop-color="#ffffff"/><stop offset="1" stop-color="#ececec"/></linearGradient>
<linearGradient id="kg4" gradientUnits="userSpaceOnUse" x1="526.8" y1="0" x2="541.6" y2="0"><stop offset="0" stop-color="#000000"/><stop offset="1" stop-color="#181818"/></linearGradient>
<g filter="url(#bf)" fill="none">
<path d="M437.9 176.8C438.8 177.0 441.1 177.4 443.8 178.1C446.5 178.8 450.5 180.1 454.3 181.1C458.0 182.1 462.4 183.4 466.5 184.2C470.6 185.0 474.6 185.5 478.8 186.0C482.9 186.5 487.3 186.8 491.2 187.0C495.1 187.2 498.5 187.2 502.1 187.0C505.7 186.8 509.5 186.5 512.9 186.1C516.4 185.7 519.5 185.0 522.8 184.4C526.1 183.8 529.6 183.1 532.7 182.6C535.8 182.1 539.3 181.7 541.6 181.4C543.9 181.1 545.7 180.9 546.5 180.8" stroke="#969696" stroke-width="2.4"/>
<path d="M437.9 181.5C438.8 181.7 441.1 182.1 443.8 182.8C446.5 183.5 450.5 184.8 454.3 185.8C458.0 186.8 462.4 188.1 466.5 188.9C470.6 189.7 474.6 190.2 478.8 190.7C482.9 191.2 487.3 191.5 491.2 191.7C495.1 191.9 498.5 191.8 502.1 191.7C505.7 191.5 509.5 191.2 512.9 190.8C516.4 190.4 519.5 189.7 522.8 189.1C526.1 188.5 529.6 187.8 532.7 187.3C535.8 186.8 539.3 186.4 541.6 186.1C543.9 185.8 545.7 185.6 546.5 185.5" stroke="#505050" stroke-width="2.6"/>
<path d="M437.9 198.0C438.7 198.2 441.2 198.7 442.8 199.1C444.4 199.5 446.1 200.0 447.7 200.4C449.4 200.9 451.0 201.4 452.7 201.8C454.3 202.3 456.0 202.6 457.6 203.0C459.3 203.4 460.9 203.7 462.6 204.0C464.2 204.3 465.9 204.7 467.5 204.9C469.1 205.2 470.8 205.4 472.4 205.7C474.1 205.9 475.7 206.2 477.4 206.4C479.0 206.6 480.7 206.7 482.3 206.9C484.0 207.1 485.6 207.2 487.3 207.4C488.9 207.5 490.6 207.7 492.2 207.8C493.8 207.9 495.5 207.8 497.1 207.9C498.8 207.9 500.4 208.0 502.1 207.9C503.7 207.9 505.4 207.7 507.0 207.6C508.7 207.5 510.3 207.4 512.0 207.3C513.6 207.1 515.3 206.9 516.9 206.7C518.5 206.4 520.2 206.2 521.8 205.9C523.5 205.7 525.1 205.4 526.8 205.2C528.4 204.9 530.1 204.6 531.7 204.4C533.4 204.2 535.0 204.0 536.7 203.8C538.3 203.6 540.0 203.5 541.6 203.3C543.2 203.1 545.7 202.8 546.5 202.7" stroke="#acacac" stroke-width="2.8"/>
<path d="M437.9 202.1C438.7 202.3 441.2 202.8 442.8 203.2C444.4 203.6 446.1 204.1 447.7 204.5C449.4 205.0 451.0 205.5 452.7 205.9C454.3 206.4 456.0 206.7 457.6 207.1C459.3 207.5 460.9 207.8 462.6 208.1C464.2 208.4 465.9 208.8 467.5 209.0C469.1 209.3 470.8 209.5 472.4 209.8C474.1 210.0 475.7 210.3 477.4 210.5C479.0 210.7 480.7 210.8 482.3 211.0C484.0 211.2 485.6 211.3 487.3 211.5C488.9 211.6 490.6 211.8 492.2 211.9C493.8 212.0 495.5 211.9 497.1 212.0C498.8 212.0 500.4 212.1 502.1 212.0C503.7 212.0 505.4 211.8 507.0 211.7C508.7 211.6 510.3 211.5 512.0 211.4C513.6 211.2 515.3 211.0 516.9 210.8C518.5 210.5 520.2 210.3 521.8 210.0C523.5 209.8 525.1 209.5 526.8 209.3C528.4 209.0 530.1 208.7 531.7 208.5C533.4 208.3 535.0 208.1 536.7 207.9C538.3 207.7 540.0 207.6 541.6 207.4C543.2 207.2 545.7 206.9 546.5 206.8" stroke="#6a6a6a" stroke-width="2.4"/>
<path d="M437.9 205.9C438.7 206.1 441.2 206.6 442.8 207.0C444.4 207.4 446.1 207.9 447.7 208.3C449.4 208.8 451.0 209.3 452.7 209.7C454.3 210.2 456.0 210.5 457.6 210.9C459.3 211.3 460.9 211.6 462.6 211.9C464.2 212.2 465.9 212.6 467.5 212.8C469.1 213.1 470.8 213.3 472.4 213.6C474.1 213.8 475.7 214.1 477.4 214.3C479.0 214.5 480.7 214.6 482.3 214.8C484.0 215.0 485.6 215.1 487.3 215.3C488.9 215.4 490.6 215.6 492.2 215.7C493.8 215.8 495.5 215.8 497.1 215.8C498.8 215.8 500.4 215.9 502.1 215.8C503.7 215.8 505.4 215.6 507.0 215.5C508.7 215.4 510.3 215.3 512.0 215.2C513.6 215.0 515.3 214.8 516.9 214.6C518.5 214.3 520.2 214.1 521.8 213.8C523.5 213.6 525.1 213.3 526.8 213.1C528.4 212.8 530.1 212.5 531.7 212.3C533.4 212.1 535.0 211.9 536.7 211.7C538.3 211.5 540.0 211.4 541.6 211.2C543.2 211.0 545.7 210.7 546.5 210.6" stroke="#909090" stroke-width="2.2"/>
<path d="M437.9 209.7C438.7 209.9 441.2 210.4 442.8 210.8C444.4 211.2 446.1 211.7 447.7 212.1C449.4 212.6 451.0 213.1 452.7 213.5C454.3 214.0 456.0 214.3 457.6 214.7C459.3 215.1 460.9 215.4 462.6 215.7C464.2 216.0 465.9 216.4 467.5 216.6C469.1 216.9 470.8 217.1 472.4 217.4C474.1 217.6 475.7 217.9 477.4 218.1C479.0 218.3 480.7 218.4 482.3 218.6C484.0 218.8 485.6 218.9 487.3 219.1C488.9 219.2 490.6 219.4 492.2 219.5C493.8 219.6 495.5 219.5 497.1 219.6C498.8 219.6 500.4 219.7 502.1 219.6C503.7 219.6 505.4 219.4 507.0 219.3C508.7 219.2 510.3 219.1 512.0 219.0C513.6 218.8 515.3 218.6 516.9 218.4C518.5 218.1 520.2 217.9 521.8 217.6C523.5 217.4 525.1 217.1 526.8 216.9C528.4 216.6 530.1 216.3 531.7 216.1C533.4 215.9 535.0 215.7 536.7 215.5C538.3 215.3 540.0 215.2 541.6 215.0C543.2 214.8 545.7 214.5 546.5 214.4" stroke="#787878" stroke-width="2.0"/>
<path d="M437.9 187.0C438.8 187.2 441.1 187.6 443.8 188.3C446.5 189.0 450.5 190.3 454.3 191.3C458.0 192.3 462.4 193.6 466.5 194.4C470.6 195.2 474.6 195.7 478.8 196.2C482.9 196.7 487.3 197.0 491.2 197.2C495.1 197.4 498.5 197.3 502.1 197.2C505.7 197.0 509.5 196.7 512.9 196.3C516.4 195.9 519.5 195.2 522.8 194.6C526.1 194.0 529.6 193.3 532.7 192.8C535.8 192.3 539.3 191.9 541.6 191.6C543.9 191.3 545.7 191.1 546.5 191.0" stroke="url(#wg4)" stroke-width="4.4"/>
<path d="M437.9 193.1C438.7 193.3 441.2 193.8 442.8 194.2C444.4 194.6 446.1 195.1 447.7 195.5C449.4 196.0 451.0 196.5 452.7 196.9C454.3 197.4 456.0 197.7 457.6 198.1C459.3 198.5 460.9 198.8 462.6 199.1C464.2 199.4 465.9 199.8 467.5 200.0C469.1 200.3 470.8 200.5 472.4 200.8C474.1 201.0 475.7 201.3 477.4 201.5C479.0 201.7 480.7 201.8 482.3 202.0C484.0 202.2 485.6 202.3 487.3 202.5C488.9 202.6 490.6 202.8 492.2 202.9C493.8 203.0 495.5 202.9 497.1 203.0C498.8 203.0 500.4 203.1 502.1 203.0C503.7 203.0 505.4 202.8 507.0 202.7C508.7 202.6 510.3 202.5 512.0 202.4C513.6 202.2 515.3 202.0 516.9 201.8C518.5 201.5 520.2 201.3 521.8 201.0C523.5 200.8 525.1 200.5 526.8 200.3C528.4 200.0 530.1 199.7 531.7 199.5C533.4 199.3 535.0 199.1 536.7 198.9C538.3 198.7 540.0 198.6 541.6 198.4C543.2 198.2 545.7 197.9 546.5 197.8" stroke="url(#kg4)" stroke-width="4.4"/>
</g></g>
<g clip-path="url(#cb0)"><rect x="32.4" y="241.3" width="102.6" height="51.9" fill="#828282"/>
<rect x="14.4" y="223.3" width="138.6" height="87.9" filter="url(#nz)" opacity="0.30" transform="rotate(14 83.7 267.2)"/>
<rect x="14.4" y="223.3" width="138.6" height="87.9" filter="url(#nz2)" opacity="0.28" transform="rotate(-14 83.7 267.2)"/>
<rect x="34.4" y="243.3" width="98.6" height="15" fill="url(#tg)"/>
<linearGradient id="og0" x1="0" x2="1" y1="0" y2="0"><stop offset="0" stop-color="#858585" stop-opacity="0"/><stop offset="0.35" stop-color="#858585" stop-opacity="0.80"/><stop offset="1" stop-color="#858585" stop-opacity="0.80"/></linearGradient>
<rect x="108.0" y="243.3" width="27.0" height="47.9" fill="url(#og0)"/>
<g filter="url(#bl)" fill="none" stroke-linecap="round">
<path d="M30.0 251.0C30.7 251.1 32.1 251.3 34.4 251.6C36.7 251.9 39.9 252.6 44.0 253.0C48.1 253.4 55.2 254.1 59.0 254.2C62.8 254.3 64.2 253.5 67.0 253.6C69.8 253.7 73.2 254.7 76.0 255.0C78.8 255.3 81.2 255.7 84.0 255.6C86.8 255.5 89.8 254.7 93.0 254.4C96.2 254.1 100.2 254.1 103.0 254.0C105.8 253.9 108.2 253.7 110.0 253.6C111.8 253.5 113.3 253.4 114.0 253.4" stroke="#969696" stroke-width="2.2"/>
<path d="M30.0 256.5C30.7 256.6 32.1 256.8 34.4 257.1C36.7 257.4 39.9 258.1 44.0 258.5C48.1 258.9 55.2 259.6 59.0 259.7C62.8 259.8 64.2 259.0 67.0 259.1C69.8 259.2 73.2 260.2 76.0 260.5C78.8 260.8 81.2 261.2 84.0 261.1C86.8 261.0 89.8 260.2 93.0 259.9C96.2 259.6 100.2 259.6 103.0 259.5C105.8 259.4 108.2 259.2 110.0 259.1C111.8 259.0 113.3 258.9 114.0 258.9" stroke="#484848" stroke-width="2.6"/>
<path d="M30.0 263.0C30.7 263.1 32.1 263.3 34.4 263.6C36.7 263.9 39.9 264.6 44.0 265.0C48.1 265.4 55.2 266.1 59.0 266.2C62.8 266.3 64.2 265.5 67.0 265.6C69.8 265.7 73.2 266.7 76.0 267.0C78.8 267.3 81.2 267.7 84.0 267.6C86.8 267.5 89.8 266.7 93.0 266.4C96.2 266.1 100.2 266.1 103.0 266.0C105.8 265.9 108.2 265.7 110.0 265.6C111.8 265.5 113.3 265.4 114.0 265.4" stroke="#ffffff" stroke-width="4.2"/>
<path d="M30.0 270.0C30.7 270.1 32.1 270.3 34.4 270.6C36.7 270.9 39.9 271.6 44.0 272.0C48.1 272.4 55.2 273.1 59.0 273.2C62.8 273.3 64.2 272.5 67.0 272.6C69.8 272.7 73.2 273.7 76.0 274.0C78.8 274.3 81.2 274.7 84.0 274.6C86.8 274.5 89.8 273.7 93.0 273.4C96.2 273.1 100.2 273.1 103.0 273.0C105.8 272.9 108.2 272.7 110.0 272.6C111.8 272.5 113.3 272.4 114.0 272.4" stroke="#060606" stroke-width="3.6"/>
<path d="M30.0 275.6C30.7 275.7 32.1 275.9 34.4 276.2C36.7 276.5 39.9 277.2 44.0 277.6C48.1 278.0 55.2 278.7 59.0 278.8C62.8 278.9 64.2 278.1 67.0 278.2C69.8 278.3 73.2 279.3 76.0 279.6C78.8 279.9 81.2 280.3 84.0 280.2C86.8 280.1 89.8 279.3 93.0 279.0C96.2 278.7 100.2 278.7 103.0 278.6C105.8 278.5 108.2 278.3 110.0 278.2C111.8 278.1 113.3 278.0 114.0 278.0" stroke="#b4b4b4" stroke-width="2.4"/>
<path d="M30.0 280.0C30.7 280.1 32.1 280.3 34.4 280.6C36.7 280.9 39.9 281.6 44.0 282.0C48.1 282.4 55.2 283.1 59.0 283.2C62.8 283.3 64.2 282.5 67.0 282.6C69.8 282.7 73.2 283.7 76.0 284.0C78.8 284.3 81.2 284.7 84.0 284.6C86.8 284.5 89.8 283.7 93.0 283.4C96.2 283.1 100.2 283.1 103.0 283.0C105.8 282.9 108.2 282.7 110.0 282.6C111.8 282.5 113.3 282.4 114.0 282.4" stroke="#646464" stroke-width="2.0"/>
<path d="M46.0 260.7L48.0 275.7" stroke="#808080" stroke-width="2" stroke-opacity="0.9"/>
<path d="M60.0 261.6L62.0 276.6" stroke="#808080" stroke-width="2" stroke-opacity="0.9"/>
<path d="M74.0 262.3L76.0 277.3" stroke="#808080" stroke-width="2" stroke-opacity="0.9"/>
<path d="M91.0 262.0L93.0 277.0" stroke="#808080" stroke-width="2" stroke-opacity="0.9"/>
<path d="M102.0 261.5L104.0 276.5" stroke="#808080" stroke-width="2" stroke-opacity="0.9"/>
</g><g filter="url(#bs)" fill="none" stroke-linecap="round">
<path d="M118.0 293.0C118.4 290.7 119.2 283.2 120.3 279.2C121.4 275.2 123.1 272.3 124.8 268.8C126.5 265.3 129.2 260.7 130.7 258.4C132.2 256.1 133.4 255.6 134.0 255.0" stroke="#9c9c9c" stroke-width="2.0"/>
<path d="M120.4 293.0C120.8 290.7 121.5 283.0 122.5 279.2C123.5 275.4 124.8 273.3 126.3 270.3C127.8 267.3 130.1 263.4 131.4 261.4C132.7 259.4 133.6 259.0 134.0 258.5" stroke="#4c4c4c" stroke-width="2.2"/>
<path d="M123.2 293.0C123.5 290.9 124.0 284.2 124.8 280.6C125.5 277.1 126.5 274.4 127.7 271.7C128.9 269.0 131.1 265.8 132.2 264.3C133.2 262.8 133.7 262.8 134.0 262.5" stroke="#f4f4f4" stroke-width="2.5"/>
<path d="M126.2 293.0C126.5 290.9 126.7 284.4 127.7 280.6C128.7 276.8 131.1 272.5 132.2 270.3C133.2 268.1 133.7 268.0 134.0 267.5" stroke="#0c0c0c" stroke-width="2.5"/>
<path d="M129.0 293.0C129.5 290.9 131.4 283.4 132.2 280.6C133.0 277.9 133.7 277.2 134.0 276.5" stroke="#e0e0e0" stroke-width="2.2"/>
</g>
<linearGradient id="fg0" x1="0" x2="0" y1="0" y2="1"><stop offset="0" stop-color="#868686" stop-opacity="0.75"/><stop offset="1" stop-color="#868686" stop-opacity="0"/></linearGradient>
<rect x="116.0" y="240.0" width="20.0" height="32.0" fill="url(#fg0)" filter="url(#bl)"/>
<rect x="14.4" y="223.3" width="138.6" height="87.9" filter="url(#nz)" opacity="0.2" transform="rotate(-9 83.7 267.2)"/>
</g>
<g clip-path="url(#cb1)"><rect x="134.0" y="241.3" width="102.5" height="51.9" fill="#828282"/>
<rect x="116.0" y="223.3" width="138.5" height="87.9" filter="url(#nz)" opacity="0.30" transform="rotate(14 185.2 267.2)"/>
<rect x="116.0" y="223.3" width="138.5" height="87.9" filter="url(#nz2)" opacity="0.28" transform="rotate(-14 185.2 267.2)"/>
<rect x="136.0" y="243.3" width="98.5" height="15" fill="url(#tg)"/>
<linearGradient id="og1" x1="0" x2="1" y1="0" y2="0"><stop offset="0" stop-color="#858585" stop-opacity="0"/><stop offset="0.35" stop-color="#858585" stop-opacity="0.50"/><stop offset="1" stop-color="#858585" stop-opacity="0.50"/></linearGradient>
<rect x="208.0" y="243.3" width="14.0" height="47.9" fill="url(#og1)"/>
<g filter="url(#bl)" fill="none" stroke-linecap="round">
<path d="M132.0 248.6C132.7 248.6 134.5 248.7 136.0 248.8C137.5 248.9 139.3 248.6 141.0 249.2C142.7 249.8 143.5 251.5 146.0 252.2C148.5 252.9 152.7 252.9 156.0 253.2C159.3 253.5 162.7 253.8 166.0 254.0C169.3 254.2 172.7 254.4 176.0 254.2C179.3 254.0 182.7 253.1 186.0 252.8C189.3 252.5 192.7 252.5 196.0 252.5C199.3 252.5 203.2 252.6 206.0 252.6C208.8 252.6 211.3 252.6 213.0 252.6C214.7 252.6 215.5 252.6 216.0 252.6" stroke="#969696" stroke-width="2.2"/>
<path d="M132.0 254.1C132.7 254.1 134.5 254.2 136.0 254.3C137.5 254.4 139.3 254.1 141.0 254.7C142.7 255.3 143.5 257.0 146.0 257.7C148.5 258.4 152.7 258.4 156.0 258.7C159.3 259.0 162.7 259.3 166.0 259.5C169.3 259.7 172.7 259.9 176.0 259.7C179.3 259.5 182.7 258.6 186.0 258.3C189.3 258.0 192.7 258.0 196.0 258.0C199.3 258.0 203.2 258.1 206.0 258.1C208.8 258.1 211.3 258.1 213.0 258.1C214.7 258.1 215.5 258.1 216.0 258.1" stroke="#484848" stroke-width="2.6"/>
<path d="M132.0 260.6C132.7 260.6 134.5 260.7 136.0 260.8C137.5 260.9 139.3 260.6 141.0 261.2C142.7 261.8 143.5 263.5 146.0 264.2C148.5 264.9 152.7 264.9 156.0 265.2C159.3 265.5 162.7 265.8 166.0 266.0C169.3 266.2 172.7 266.4 176.0 266.2C179.3 266.0 182.7 265.1 186.0 264.8C189.3 264.5 192.7 264.5 196.0 264.5C199.3 264.5 203.2 264.6 206.0 264.6C208.8 264.6 211.3 264.6 213.0 264.6C214.7 264.6 215.5 264.6 216.0 264.6" stroke="#ffffff" stroke-width="4.2"/>
<path d="M132.0 267.6C132.7 267.6 134.5 267.7 136.0 267.8C137.5 267.9 139.3 267.6 141.0 268.2C142.7 268.8 143.5 270.5 146.0 271.2C148.5 271.9 152.7 271.9 156.0 272.2C159.3 272.5 162.7 272.8 166.0 273.0C169.3 273.2 172.7 273.4 176.0 273.2C179.3 273.0 182.7 272.1 186.0 271.8C189.3 271.5 192.7 271.5 196.0 271.5C199.3 271.5 203.2 271.6 206.0 271.6C208.8 271.6 211.3 271.6 213.0 271.6C214.7 271.6 215.5 271.6 216.0 271.6" stroke="#060606" stroke-width="3.6"/>
<path d="M132.0 273.2C132.7 273.2 134.5 273.3 136.0 273.4C137.5 273.5 139.3 273.2 141.0 273.8C142.7 274.4 143.5 276.1 146.0 276.8C148.5 277.5 152.7 277.5 156.0 277.8C159.3 278.1 162.7 278.4 166.0 278.6C169.3 278.8 172.7 279.0 176.0 278.8C179.3 278.6 182.7 277.7 186.0 277.4C189.3 277.1 192.7 277.1 196.0 277.1C199.3 277.1 203.2 277.2 206.0 277.2C208.8 277.2 211.3 277.2 213.0 277.2C214.7 277.2 215.5 277.2 216.0 277.2" stroke="#b4b4b4" stroke-width="2.4"/>
<path d="M132.0 277.6C132.7 277.6 134.5 277.7 136.0 277.8C137.5 277.9 139.3 277.6 141.0 278.2C142.7 278.8 143.5 280.5 146.0 281.2C148.5 281.9 152.7 281.9 156.0 282.2C159.3 282.5 162.7 282.8 166.0 283.0C169.3 283.2 172.7 283.4 176.0 283.2C179.3 283.0 182.7 282.1 186.0 281.8C189.3 281.5 192.7 281.5 196.0 281.5C199.3 281.5 203.2 281.6 206.0 281.6C208.8 281.6 211.3 281.6 213.0 281.6C214.7 281.6 215.5 281.6 216.0 281.6" stroke="#646464" stroke-width="2.0"/>
<path d="M144.0 259.1L146.0 274.1" stroke="#808080" stroke-width="2" stroke-opacity="0.9"/>
<path d="M155.0 260.7L157.0 275.7" stroke="#808080" stroke-width="2" stroke-opacity="0.9"/>
<path d="M169.0 261.6L171.0 276.6" stroke="#808080" stroke-width="2" stroke-opacity="0.9"/>
<path d="M182.0 260.7L184.0 275.7" stroke="#808080" stroke-width="2" stroke-opacity="0.9"/>
<path d="M192.0 260.1L194.0 275.1" stroke="#808080" stroke-width="2" stroke-opacity="0.9"/>
<path d="M204.0 260.1L206.0 275.1" stroke="#808080" stroke-width="2" stroke-opacity="0.9"/>
</g><g filter="url(#bs)" fill="none" stroke-linecap="round">
<path d="M218.6 293.0C219.5 289.2 222.0 276.1 223.8 270.3C225.7 264.5 227.7 261.8 229.7 258.4C231.7 255.0 234.9 251.4 236.0 250.0" stroke="#484848" stroke-width="2.2"/>
<path d="M220.6 293.0C221.4 289.7 223.8 278.2 225.3 273.2C226.8 268.2 228.3 265.7 229.7 263.0C231.0 260.3 232.2 258.8 233.4 257.0C234.6 255.2 236.4 252.8 237.0 252.0" stroke="#ffffff" stroke-width="2.8"/>
<path d="M223.1 285.1C223.7 283.6 225.3 279.0 226.5 276.0C227.7 273.0 229.2 269.7 230.5 267.3C231.8 264.9 233.4 262.5 234.0 261.5" stroke="#000" stroke-width="3.0"/>
<path d="M224.2 291.5C224.9 289.6 227.0 283.5 228.5 280.0C230.0 276.5 232.0 272.9 233.4 270.3C234.8 267.7 236.4 265.5 237.0 264.5" stroke="#ffffff" stroke-width="2.8"/>
<path d="M227.8 292.0C228.3 290.6 229.9 285.9 231.0 283.5C232.1 281.1 233.2 279.4 234.2 277.7C235.2 275.9 236.5 273.8 237.0 273.0" stroke="#000" stroke-width="2.8"/>
<path d="M231.5 292.0C232.2 290.2 235.2 282.8 236.0 281.0" stroke="#e0e0e0" stroke-width="2.2"/>
</g>
<linearGradient id="fg1" x1="0" x2="0" y1="0" y2="1"><stop offset="0" stop-color="#868686" stop-opacity="0.80"/><stop offset="1" stop-color="#868686" stop-opacity="0"/></linearGradient>
<rect x="217.0" y="240.0" width="21.0" height="30.0" fill="url(#fg1)" filter="url(#bl)"/>
<rect x="116.0" y="223.3" width="138.5" height="87.9" filter="url(#nz)" opacity="0.2" transform="rotate(-9 185.2 267.2)"/>
</g>
<g clip-path="url(#cb2)"><rect x="235.8" y="241.3" width="102.5" height="51.9" fill="#828282"/>
<rect x="217.8" y="223.3" width="138.5" height="87.9" filter="url(#nz)" opacity="0.30" transform="rotate(14 287.1 267.2)"/>
<rect x="217.8" y="223.3" width="138.5" height="87.9" filter="url(#nz2)" opacity="0.28" transform="rotate(-14 287.1 267.2)"/>
<rect x="237.8" y="243.3" width="98.5" height="15" fill="url(#tg)"/>
<g filter="url(#bl)" fill="none" stroke-linecap="round">
<path d="M234.0 250.5C234.7 250.6 235.7 250.5 238.0 251.2C240.3 251.9 244.7 254.0 248.0 254.8C251.3 255.6 254.7 255.6 258.0 255.8C261.3 256.0 264.7 255.8 268.0 255.8C271.3 255.8 275.4 256.1 278.0 255.8C280.6 255.5 281.8 254.7 283.5 254.2C285.2 253.7 285.9 253.1 288.0 252.8C290.1 252.5 293.2 252.4 296.0 252.2C298.8 252.0 302.2 251.2 305.0 251.8C307.8 252.4 310.7 254.2 313.0 255.5C315.3 256.8 317.4 258.5 319.0 259.5C320.6 260.5 321.9 261.2 322.5 261.5" stroke="#969696" stroke-width="2.2"/>
<path d="M234.0 256.0C234.7 256.1 235.7 256.0 238.0 256.7C240.3 257.4 244.7 259.5 248.0 260.3C251.3 261.1 254.7 261.1 258.0 261.3C261.3 261.5 264.7 261.3 268.0 261.3C271.3 261.3 275.4 261.6 278.0 261.3C280.6 261.0 281.8 260.2 283.5 259.7C285.2 259.2 285.9 258.6 288.0 258.3C290.1 258.0 293.2 257.9 296.0 257.7C298.8 257.5 302.2 256.8 305.0 257.3C307.8 257.9 310.7 259.7 313.0 261.0C315.3 262.3 317.4 264.0 319.0 265.0C320.6 266.0 321.9 266.7 322.5 267.0" stroke="#484848" stroke-width="2.6"/>
<path d="M234.0 262.5C234.7 262.6 235.7 262.5 238.0 263.2C240.3 263.9 244.7 266.0 248.0 266.8C251.3 267.6 254.7 267.6 258.0 267.8C261.3 268.0 264.7 267.8 268.0 267.8C271.3 267.8 275.4 268.1 278.0 267.8C280.6 267.5 281.8 266.7 283.5 266.2C285.2 265.7 285.9 265.1 288.0 264.8C290.1 264.5 293.2 264.4 296.0 264.2C298.8 264.0 302.2 263.2 305.0 263.8C307.8 264.4 310.7 266.2 313.0 267.5C315.3 268.8 317.4 270.5 319.0 271.5C320.6 272.5 321.9 273.2 322.5 273.5" stroke="#ffffff" stroke-width="4.2"/>
<path d="M234.0 269.5C234.7 269.6 235.7 269.5 238.0 270.2C240.3 270.9 244.7 273.0 248.0 273.8C251.3 274.6 254.7 274.6 258.0 274.8C261.3 275.0 264.7 274.8 268.0 274.8C271.3 274.8 275.4 275.1 278.0 274.8C280.6 274.5 281.8 273.7 283.5 273.2C285.2 272.7 285.9 272.1 288.0 271.8C290.1 271.5 293.2 271.4 296.0 271.2C298.8 271.0 302.2 270.2 305.0 270.8C307.8 271.4 310.7 273.2 313.0 274.5C315.3 275.8 317.4 277.5 319.0 278.5C320.6 279.5 321.9 280.2 322.5 280.5" stroke="#060606" stroke-width="3.6"/>
<path d="M234.0 275.1C234.7 275.2 235.7 275.1 238.0 275.8C240.3 276.5 244.7 278.6 248.0 279.4C251.3 280.2 254.7 280.2 258.0 280.4C261.3 280.6 264.7 280.4 268.0 280.4C271.3 280.4 275.4 280.7 278.0 280.4C280.6 280.1 281.8 279.3 283.5 278.8C285.2 278.3 285.9 277.7 288.0 277.4C290.1 277.1 293.2 277.0 296.0 276.8C298.8 276.6 302.2 275.9 305.0 276.4C307.8 277.0 310.7 278.8 313.0 280.1C315.3 281.4 317.4 283.1 319.0 284.1C320.6 285.1 321.9 285.8 322.5 286.1" stroke="#b4b4b4" stroke-width="2.4"/>
<path d="M234.0 279.5C234.7 279.6 235.7 279.5 238.0 280.2C240.3 280.9 244.7 283.0 248.0 283.8C251.3 284.6 254.7 284.6 258.0 284.8C261.3 285.0 264.7 284.8 268.0 284.8C271.3 284.8 275.4 285.1 278.0 284.8C280.6 284.5 281.8 283.7 283.5 283.2C285.2 282.7 285.9 282.1 288.0 281.8C290.1 281.5 293.2 281.4 296.0 281.2C298.8 281.0 302.2 280.2 305.0 280.8C307.8 281.4 310.7 283.2 313.0 284.5C315.3 285.8 317.4 287.5 319.0 288.5C320.6 289.5 321.9 290.2 322.5 290.5" stroke="#646464" stroke-width="2.0"/>
<path d="M251.0 262.7L253.0 277.7" stroke="#808080" stroke-width="2" stroke-opacity="0.9"/>
<path d="M263.0 263.3L265.0 278.3" stroke="#808080" stroke-width="2" stroke-opacity="0.9"/>
<path d="M275.0 263.3L277.0 278.3" stroke="#808080" stroke-width="2" stroke-opacity="0.9"/>
<path d="M285.0 260.9L287.0 275.9" stroke="#808080" stroke-width="2" stroke-opacity="0.9"/>
<path d="M297.0 259.6L299.0 274.6" stroke="#808080" stroke-width="2" stroke-opacity="0.9"/>
<path d="M309.0 261.6L311.0 276.6" stroke="#808080" stroke-width="2" stroke-opacity="0.9"/>
</g><g filter="url(#bs)" fill="none" stroke-linecap="round">
<path d="M322.1 267.3C323.2 265.8 326.7 261.1 328.8 258.4C330.9 255.7 333.2 252.8 334.7 251.0C336.2 249.2 337.4 248.1 338.0 247.5" stroke="#444" stroke-width="2.2"/>
<path d="M318.8 293.0C319.4 290.4 321.1 281.5 322.1 277.7C323.1 273.9 323.5 272.8 324.6 270.3C325.7 267.8 327.2 265.2 328.8 262.8C330.4 260.4 332.5 258.2 334.0 256.2C335.5 254.2 337.3 251.9 338.0 251.0" stroke="#ffffff" stroke-width="2.8"/>
<path d="M321.2 288.5C321.6 286.7 322.7 281.1 323.8 277.7C324.9 274.3 327.0 269.6 327.6 268.0" stroke="#000" stroke-width="3.0"/>
<path d="M327.6 268.0C328.9 266.4 333.7 260.5 335.4 258.4C337.1 256.3 337.6 256.0 338.0 255.5" stroke="#383838" stroke-width="2.2"/>
<path d="M323.8 293.0C324.4 290.9 325.4 285.1 327.3 280.6C329.2 276.1 333.6 268.9 335.4 265.8C337.2 262.7 337.6 262.6 338.0 262.0" stroke="#d4d4d4" stroke-width="2.4"/>
<path d="M327.5 293.0C328.1 291.5 329.2 287.5 331.0 284.0C332.8 280.5 336.8 274.0 338.0 272.0" stroke="#4a4a4a" stroke-width="2.0"/>
</g>
<linearGradient id="fg2" x1="0" x2="0" y1="0" y2="1"><stop offset="0" stop-color="#868686" stop-opacity="0.70"/><stop offset="1" stop-color="#868686" stop-opacity="0"/></linearGradient>
<rect x="322.0" y="240.0" width="18.0" height="26.0" fill="url(#fg2)" filter="url(#bl)"/>
<rect x="217.8" y="223.3" width="138.5" height="87.9" filter="url(#nz)" opacity="0.2" transform="rotate(-9 287.1 267.2)"/>
</g>
<g clip-path="url(#cb3)"><rect x="338.0" y="241.3" width="102.4" height="51.9" fill="#828282"/>
<rect x="320.0" y="223.3" width="138.4" height="87.9" filter="url(#nz)" opacity="0.30" transform="rotate(14 389.2 267.2)"/>
<rect x="320.0" y="223.3" width="138.4" height="87.9" filter="url(#nz2)" opacity="0.28" transform="rotate(-14 389.2 267.2)"/>
<rect x="340.0" y="243.3" width="98.4" height="15" fill="url(#tg)"/>
<g filter="url(#bl)" fill="none" stroke-linecap="round">
<path d="M336.0 249.0C336.7 249.1 337.7 249.0 340.0 249.6C342.3 250.2 346.7 251.8 350.0 252.5C353.3 253.2 356.7 253.5 360.0 253.8C363.3 254.1 366.7 254.2 370.0 254.2C373.3 254.2 376.7 254.3 380.0 253.8C383.3 253.3 387.0 251.8 390.0 251.2C393.0 250.6 395.2 250.2 398.0 250.2C400.8 250.2 404.2 250.2 407.0 251.0C409.8 251.8 412.7 253.8 415.0 255.0C417.3 256.2 419.4 257.5 421.0 258.2C422.6 258.9 423.8 259.2 424.4 259.4" stroke="#969696" stroke-width="2.2"/>
<path d="M336.0 254.5C336.7 254.6 337.7 254.5 340.0 255.1C342.3 255.7 346.7 257.3 350.0 258.0C353.3 258.7 356.7 259.0 360.0 259.3C363.3 259.6 366.7 259.7 370.0 259.7C373.3 259.7 376.7 259.8 380.0 259.3C383.3 258.8 387.0 257.3 390.0 256.7C393.0 256.1 395.2 255.7 398.0 255.7C400.8 255.7 404.2 255.7 407.0 256.5C409.8 257.3 412.7 259.3 415.0 260.5C417.3 261.7 419.4 263.0 421.0 263.7C422.6 264.4 423.8 264.7 424.4 264.9" stroke="#484848" stroke-width="2.6"/>
<path d="M336.0 261.0C336.7 261.1 337.7 261.0 340.0 261.6C342.3 262.2 346.7 263.8 350.0 264.5C353.3 265.2 356.7 265.5 360.0 265.8C363.3 266.1 366.7 266.2 370.0 266.2C373.3 266.2 376.7 266.3 380.0 265.8C383.3 265.3 387.0 263.8 390.0 263.2C393.0 262.6 395.2 262.2 398.0 262.2C400.8 262.2 404.2 262.2 407.0 263.0C409.8 263.8 412.7 265.8 415.0 267.0C417.3 268.2 419.4 269.5 421.0 270.2C422.6 270.9 423.8 271.2 424.4 271.4" stroke="#ffffff" stroke-width="4.2"/>
<path d="M336.0 268.0C336.7 268.1 337.7 268.0 340.0 268.6C342.3 269.2 346.7 270.8 350.0 271.5C353.3 272.2 356.7 272.5 360.0 272.8C363.3 273.1 366.7 273.2 370.0 273.2C373.3 273.2 376.7 273.3 380.0 272.8C383.3 272.3 387.0 270.8 390.0 270.2C393.0 269.6 395.2 269.2 398.0 269.2C400.8 269.2 404.2 269.2 407.0 270.0C409.8 270.8 412.7 272.8 415.0 274.0C417.3 275.2 419.4 276.5 421.0 277.2C422.6 277.9 423.8 278.2 424.4 278.4" stroke="#060606" stroke-width="3.6"/>
<path d="M336.0 273.6C336.7 273.7 337.7 273.6 340.0 274.2C342.3 274.8 346.7 276.4 350.0 277.1C353.3 277.8 356.7 278.1 360.0 278.4C363.3 278.7 366.7 278.8 370.0 278.8C373.3 278.8 376.7 278.9 380.0 278.4C383.3 277.9 387.0 276.4 390.0 275.8C393.0 275.2 395.2 274.8 398.0 274.8C400.8 274.8 404.2 274.8 407.0 275.6C409.8 276.4 412.7 278.4 415.0 279.6C417.3 280.8 419.4 282.1 421.0 282.8C422.6 283.5 423.8 283.8 424.4 284.0" stroke="#b4b4b4" stroke-width="2.4"/>
<path d="M336.0 278.0C336.7 278.1 337.7 278.0 340.0 278.6C342.3 279.2 346.7 280.8 350.0 281.5C353.3 282.2 356.7 282.5 360.0 282.8C363.3 283.1 366.7 283.2 370.0 283.2C373.3 283.2 376.7 283.3 380.0 282.8C383.3 282.3 387.0 280.8 390.0 280.2C393.0 279.6 395.2 279.2 398.0 279.2C400.8 279.2 404.2 279.2 407.0 280.0C409.8 280.8 412.7 282.8 415.0 284.0C417.3 285.2 419.4 286.5 421.0 287.2C422.6 287.9 423.8 288.2 424.4 288.4" stroke="#646464" stroke-width="2.0"/>
<circle cx="424.2" cy="277.0" r="2.6" fill="#000"/>
<path d="M346.0 259.1L348.0 274.1" stroke="#808080" stroke-width="2" stroke-opacity="0.9"/>
<path d="M355.0 260.8L357.0 275.8" stroke="#808080" stroke-width="2" stroke-opacity="0.9"/>
<path d="M364.0 261.5L366.0 276.5" stroke="#808080" stroke-width="2" stroke-opacity="0.9"/>
<path d="M373.0 261.5L375.0 276.5" stroke="#808080" stroke-width="2" stroke-opacity="0.9"/>
<path d="M382.0 260.5L384.0 275.5" stroke="#808080" stroke-width="2" stroke-opacity="0.9"/>
<path d="M393.0 258.2L395.0 273.2" stroke="#808080" stroke-width="2" stroke-opacity="0.9"/>
<path d="M403.0 258.2L405.0 273.2" stroke="#808080" stroke-width="2" stroke-opacity="0.9"/>
</g><g filter="url(#bs)" fill="none" stroke-linecap="round">
<path d="M418.0 266.0C419.0 264.8 421.8 261.2 424.0 258.5C426.2 255.8 428.7 252.5 431.0 250.0C433.3 247.5 436.8 244.6 438.0 243.5" stroke="#3a3a3a" stroke-width="2.2"/>
<path d="M424.4 271.2C425.1 269.9 427.0 266.0 428.8 263.2C430.6 260.4 433.3 256.9 435.3 254.6C437.3 252.3 440.1 250.3 441.0 249.5" stroke="#f4f4f4" stroke-width="2.8"/>
<path d="M427.6 273.5C428.3 272.2 430.4 268.3 432.0 266.0C433.6 263.7 435.3 261.4 437.0 259.6C438.7 257.8 441.2 255.8 442.0 255.0" stroke="#161616" stroke-width="2.6"/>
<path d="M431.5 276.0C432.2 274.8 434.2 271.2 436.0 269.0C437.8 266.8 441.0 263.6 442.0 262.5" stroke="#b8b8b8" stroke-width="2.0"/>
<path d="M422.0 282.5C422.3 282.2 423.7 281.2 424.0 281.0" stroke="#f0f0f0" stroke-width="2.6"/>
<path d="M421.5 287.0C421.8 286.9 423.2 286.6 423.5 286.5" stroke="#222" stroke-width="2.2"/>
</g>
<rect x="320.0" y="223.3" width="138.4" height="87.9" filter="url(#nz)" opacity="0.2" transform="rotate(-9 389.2 267.2)"/>
</g>
<g clip-path="url(#cb4)"><rect x="440.8" y="241.3" width="102.8" height="51.9" fill="#828282"/>
<rect x="422.8" y="223.3" width="138.8" height="87.9" filter="url(#nz)" opacity="0.30" transform="rotate(14 492.2 267.2)"/>
<rect x="422.8" y="223.3" width="138.8" height="87.9" filter="url(#nz2)" opacity="0.28" transform="rotate(-14 492.2 267.2)"/>
<rect x="442.8" y="243.3" width="98.8" height="15" fill="url(#tg)"/>
<g filter="url(#bl)" fill="none" stroke-linecap="round">
<path d="M439.0 249.0C439.7 249.1 440.8 249.1 443.0 249.8C445.2 250.5 448.8 252.4 452.0 253.3C455.2 254.2 458.7 254.7 462.0 255.0C465.3 255.3 468.7 255.1 472.0 255.0C475.3 254.9 478.7 254.6 482.0 254.2C485.3 253.8 489.0 252.8 492.0 252.6C495.0 252.4 497.3 252.5 500.0 252.8C502.7 253.1 505.5 253.5 508.0 254.5C510.5 255.5 513.0 257.8 515.0 259.0C517.0 260.2 518.5 261.3 520.0 262.0C521.5 262.7 523.5 263.0 524.2 263.2" stroke="#969696" stroke-width="2.2"/>
<path d="M439.0 254.5C439.7 254.6 440.8 254.6 443.0 255.3C445.2 256.0 448.8 257.9 452.0 258.8C455.2 259.7 458.7 260.2 462.0 260.5C465.3 260.8 468.7 260.6 472.0 260.5C475.3 260.4 478.7 260.1 482.0 259.7C485.3 259.3 489.0 258.3 492.0 258.1C495.0 257.9 497.3 258.0 500.0 258.3C502.7 258.6 505.5 259.0 508.0 260.0C510.5 261.0 513.0 263.2 515.0 264.5C517.0 265.8 518.5 266.8 520.0 267.5C521.5 268.2 523.5 268.5 524.2 268.7" stroke="#484848" stroke-width="2.6"/>
<path d="M439.0 261.0C439.7 261.1 440.8 261.1 443.0 261.8C445.2 262.5 448.8 264.4 452.0 265.3C455.2 266.2 458.7 266.7 462.0 267.0C465.3 267.3 468.7 267.1 472.0 267.0C475.3 266.9 478.7 266.6 482.0 266.2C485.3 265.8 489.0 264.8 492.0 264.6C495.0 264.4 497.3 264.5 500.0 264.8C502.7 265.1 505.5 265.5 508.0 266.5C510.5 267.5 513.0 269.8 515.0 271.0C517.0 272.2 518.5 273.3 520.0 274.0C521.5 274.7 523.5 275.0 524.2 275.2" stroke="#ffffff" stroke-width="4.2"/>
<path d="M439.0 268.0C439.7 268.1 440.8 268.1 443.0 268.8C445.2 269.5 448.8 271.4 452.0 272.3C455.2 273.2 458.7 273.7 462.0 274.0C465.3 274.3 468.7 274.1 472.0 274.0C475.3 273.9 478.7 273.6 482.0 273.2C485.3 272.8 489.0 271.8 492.0 271.6C495.0 271.4 497.3 271.5 500.0 271.8C502.7 272.1 505.5 272.5 508.0 273.5C510.5 274.5 513.0 276.8 515.0 278.0C517.0 279.2 518.5 280.3 520.0 281.0C521.5 281.7 523.5 282.0 524.2 282.2" stroke="#060606" stroke-width="3.6"/>
<path d="M439.0 273.6C439.7 273.7 440.8 273.7 443.0 274.4C445.2 275.1 448.8 277.0 452.0 277.9C455.2 278.8 458.7 279.3 462.0 279.6C465.3 279.9 468.7 279.7 472.0 279.6C475.3 279.5 478.7 279.2 482.0 278.8C485.3 278.4 489.0 277.4 492.0 277.2C495.0 277.0 497.3 277.1 500.0 277.4C502.7 277.7 505.5 278.1 508.0 279.1C510.5 280.1 513.0 282.4 515.0 283.6C517.0 284.9 518.5 285.9 520.0 286.6C521.5 287.3 523.5 287.6 524.2 287.8" stroke="#b4b4b4" stroke-width="2.4"/>
<path d="M439.0 278.0C439.7 278.1 440.8 278.1 443.0 278.8C445.2 279.5 448.8 281.4 452.0 282.3C455.2 283.2 458.7 283.7 462.0 284.0C465.3 284.3 468.7 284.1 472.0 284.0C475.3 283.9 478.7 283.6 482.0 283.2C485.3 282.8 489.0 281.8 492.0 281.6C495.0 281.4 497.3 281.5 500.0 281.8C502.7 282.1 505.5 282.5 508.0 283.5C510.5 284.5 513.0 286.8 515.0 288.0C517.0 289.2 518.5 290.3 520.0 291.0C521.5 291.7 523.5 292.0 524.2 292.2" stroke="#646464" stroke-width="2.0"/>
<circle cx="524.0" cy="281.0" r="2.6" fill="#000"/>
<path d="M450.0 260.4L452.0 275.4" stroke="#808080" stroke-width="2" stroke-opacity="0.9"/>
<path d="M458.0 262.0L460.0 277.0" stroke="#808080" stroke-width="2" stroke-opacity="0.9"/>
<path d="M467.0 262.5L469.0 277.5" stroke="#808080" stroke-width="2" stroke-opacity="0.9"/>
<path d="M476.0 262.1L478.0 277.1" stroke="#808080" stroke-width="2" stroke-opacity="0.9"/>
<path d="M486.0 260.9L488.0 275.9" stroke="#808080" stroke-width="2" stroke-opacity="0.9"/>
<path d="M496.0 260.2L498.0 275.2" stroke="#808080" stroke-width="2" stroke-opacity="0.9"/>
<path d="M506.0 261.8L508.0 276.8" stroke="#808080" stroke-width="2" stroke-opacity="0.9"/>
</g><g filter="url(#bs)" fill="none" stroke-linecap="round">
<path d="M518.5 268.0C519.5 266.8 522.4 262.9 524.5 260.5C526.6 258.1 528.8 255.6 531.0 253.5C533.2 251.4 536.8 248.9 538.0 248.0" stroke="#4a4a4a" stroke-width="2.2"/>
<path d="M524.2 275.0C525.0 273.6 527.1 269.2 529.0 266.4C530.9 263.6 533.3 260.5 535.6 258.2C537.9 255.9 541.8 253.5 543.0 252.6" stroke="#d6d6d6" stroke-width="2.6"/>
<path d="M527.5 278.5C528.2 277.2 529.9 273.4 531.5 271.0C533.1 268.6 535.1 266.0 537.0 264.0C538.9 262.0 542.0 259.8 543.0 259.0" stroke="#2c2c2c" stroke-width="2.4"/>
<path d="M519.0 287.0C519.4 286.7 521.1 285.3 521.5 285.0" stroke="#d0d0d0" stroke-width="2.2"/>
</g>
<rect x="422.8" y="223.3" width="138.8" height="87.9" filter="url(#nz)" opacity="0.2" transform="rotate(-9 492.2 267.2)"/>
</g>
<rect x="34.4" y="174.4" width="98.6" height="49.1" fill="none" stroke="#555" stroke-width="0.5"/>
<rect x="34.4" y="243.3" width="98.6" height="47.9" fill="none" stroke="#555" stroke-width="0.5"/>
<text class="tk" x="54.4" y="230.7" text-anchor="middle">20</text>
<text class="tk" x="54.4" y="298.7" text-anchor="middle">20</text>
<text class="tk" x="75.0" y="230.7" text-anchor="middle">40</text>
<text class="tk" x="75.0" y="298.7" text-anchor="middle">40</text>
<text class="tk" x="95.5" y="230.7" text-anchor="middle">60</text>
<text class="tk" x="95.5" y="298.7" text-anchor="middle">60</text>
<text class="tk" x="116.1" y="230.7" text-anchor="middle">80</text>
<text class="tk" x="116.1" y="298.7" text-anchor="middle">80</text>
<text class="lb" x="84.0" y="238.0" text-anchor="middle">Element</text>
<text class="lb" x="84.0" y="306.1" text-anchor="middle">Element</text>
<rect x="136.0" y="174.4" width="98.5" height="49.1" fill="none" stroke="#555" stroke-width="0.5"/>
<rect x="136.0" y="243.3" width="98.5" height="47.9" fill="none" stroke="#555" stroke-width="0.5"/>
<text class="tk" x="156.0" y="230.7" text-anchor="middle">20</text>
<text class="tk" x="156.0" y="298.7" text-anchor="middle">20</text>
<text class="tk" x="176.5" y="230.7" text-anchor="middle">40</text>
<text class="tk" x="176.5" y="298.7" text-anchor="middle">40</text>
<text class="tk" x="197.0" y="230.7" text-anchor="middle">60</text>
<text class="tk" x="197.0" y="298.7" text-anchor="middle">60</text>
<text class="tk" x="217.6" y="230.7" text-anchor="middle">80</text>
<text class="tk" x="217.6" y="298.7" text-anchor="middle">80</text>
<text class="lb" x="185.6" y="238.0" text-anchor="middle">Element</text>
<text class="lb" x="185.6" y="306.1" text-anchor="middle">Element</text>
<rect x="237.8" y="174.4" width="98.5" height="49.1" fill="none" stroke="#555" stroke-width="0.5"/>
<rect x="237.8" y="243.3" width="98.5" height="47.9" fill="none" stroke="#555" stroke-width="0.5"/>
<text class="tk" x="257.8" y="230.4" text-anchor="middle">20</text>
<text class="tk" x="257.8" y="298.7" text-anchor="middle">20</text>
<text class="tk" x="278.3" y="230.4" text-anchor="middle">40</text>
<text class="tk" x="278.3" y="298.7" text-anchor="middle">40</text>
<text class="tk" x="298.8" y="230.4" text-anchor="middle">60</text>
<text class="tk" x="298.8" y="298.7" text-anchor="middle">60</text>
<text class="tk" x="319.4" y="230.4" text-anchor="middle">80</text>
<text class="tk" x="319.4" y="298.7" text-anchor="middle">80</text>
<text class="lb" x="287.4" y="237.6" text-anchor="middle">Element</text>
<text class="lb" x="287.4" y="306.1" text-anchor="middle">Element</text>
<rect x="340.0" y="175.2" width="98.4" height="48.2" fill="none" stroke="#555" stroke-width="0.5"/>
<rect x="340.0" y="243.3" width="98.4" height="47.9" fill="none" stroke="#555" stroke-width="0.5"/>
<text class="tk" x="360.0" y="231.0" text-anchor="middle">20</text>
<text class="tk" x="360.0" y="298.7" text-anchor="middle">20</text>
<text class="tk" x="380.5" y="231.0" text-anchor="middle">40</text>
<text class="tk" x="380.5" y="298.7" text-anchor="middle">40</text>
<text class="tk" x="401.0" y="231.0" text-anchor="middle">60</text>
<text class="tk" x="401.0" y="298.7" text-anchor="middle">60</text>
<text class="tk" x="421.5" y="231.0" text-anchor="middle">80</text>
<text class="tk" x="421.5" y="298.7" text-anchor="middle">80</text>
<text class="lb" x="389.5" y="238.0" text-anchor="middle">Element</text>
<text class="lb" x="389.5" y="306.1" text-anchor="middle">Element</text>
<rect x="442.8" y="175.5" width="98.8" height="48.0" fill="none" stroke="#555" stroke-width="0.5"/>
<rect x="442.8" y="243.3" width="98.8" height="47.9" fill="none" stroke="#555" stroke-width="0.5"/>
<text class="tk" x="462.9" y="231.3" text-anchor="middle">20</text>
<text class="tk" x="462.9" y="298.7" text-anchor="middle">20</text>
<text class="tk" x="483.5" y="231.3" text-anchor="middle">40</text>
<text class="tk" x="483.5" y="298.7" text-anchor="middle">40</text>
<text class="tk" x="504.0" y="231.3" text-anchor="middle">60</text>
<text class="tk" x="504.0" y="298.7" text-anchor="middle">60</text>
<text class="tk" x="524.6" y="231.3" text-anchor="middle">80</text>
<text class="tk" x="524.6" y="298.7" text-anchor="middle">80</text>
<text class="lb" x="492.5" y="238.6" text-anchor="middle">Element</text>
<text class="lb" x="492.5" y="306.1" text-anchor="middle">Element</text>
<rect x="375" y="237.2" width="32" height="3.2" fill="#fff"/>
<text class="tk" x="32.3" y="191.8" text-anchor="end">200</text>
<text class="tk" x="32.3" y="207.3" text-anchor="end">400</text>
<text class="tk" x="32.3" y="222.8" text-anchor="end">600</text>
<text class="tk" x="32.3" y="259.0" text-anchor="end">200</text>
<text class="tk" x="32.3" y="273.1" text-anchor="end">400</text>
<text class="tk" x="32.3" y="287.1" text-anchor="end">600</text>
<text class="lb" transform="translate(21.3 198.7) rotate(-90)" text-anchor="middle">sample</text>
<text class="lb" transform="translate(21.3 268) rotate(-90)" text-anchor="middle">sample</text>
<text class="rt" transform="translate(11.5 198.7) rotate(-90)" text-anchor="middle" textLength="34" lengthAdjust="spacingAndGlyphs">Flat bone</text>
<text class="rt" transform="translate(14.2 268.4) rotate(-90)" text-anchor="middle" textLength="50" lengthAdjust="spacingAndGlyphs">Realistic bone</text>
<text class="cd" x="20" y="171.6" text-anchor="middle" textLength="10.8" lengthAdjust="spacingAndGlyphs">(c)</text>
<text class="cd" x="21" y="304" text-anchor="middle">(d)</text>
<path d="M3.8 241.1H546.5" stroke="#b9b9b9" stroke-width="1.3"/>
<rect x="34.1" y="162.9" width="77.8" height="22.3" fill="#92d050"/>
<text class="gb" x="39.0" y="172.0" textLength="66.3" lengthAdjust="spacingAndGlyphs">Synthetically transmit</text>
<text class="gb" x="39.0" y="180.5" textLength="59.5" lengthAdjust="spacingAndGlyphs">focused RF-data, P1</text>
<rect x="135.6" y="164.2" width="77.7" height="21.4" fill="#92d050"/>
<text class="gb" x="140.2" y="172.4" textLength="66.3" lengthAdjust="spacingAndGlyphs">Synthetically transmit</text>
<text class="gb" x="140.2" y="180.9" textLength="59.5" lengthAdjust="spacingAndGlyphs">focused RF-data, P2</text>
<rect x="244.9" y="163.4" width="78.1" height="22.1" fill="#92d050"/>
<text class="gb" x="249.3" y="172.4" textLength="66.3" lengthAdjust="spacingAndGlyphs">Synthetically transmit</text>
<text class="gb" x="249.3" y="180.9" textLength="59.5" lengthAdjust="spacingAndGlyphs">focused RF-data, P3</text>
<rect x="351.7" y="163.4" width="77.4" height="21.6" fill="#92d050"/>
<text class="gb" x="356.1" y="171.9" textLength="66.3" lengthAdjust="spacingAndGlyphs">Synthetically transmit</text>
<text class="gb" x="356.1" y="180.4" textLength="59.5" lengthAdjust="spacingAndGlyphs">focused RF-data, P4</text>
<rect x="453.4" y="160.4" width="78.6" height="22.1" fill="#92d050"/>
<text class="gb" x="457.8" y="169.4" textLength="66.3" lengthAdjust="spacingAndGlyphs">Synthetically transmit</text>
<text class="gb" x="457.8" y="177.9" textLength="59.5" lengthAdjust="spacingAndGlyphs">focused RF-data, P5</text>
</svg>
</body></html>
